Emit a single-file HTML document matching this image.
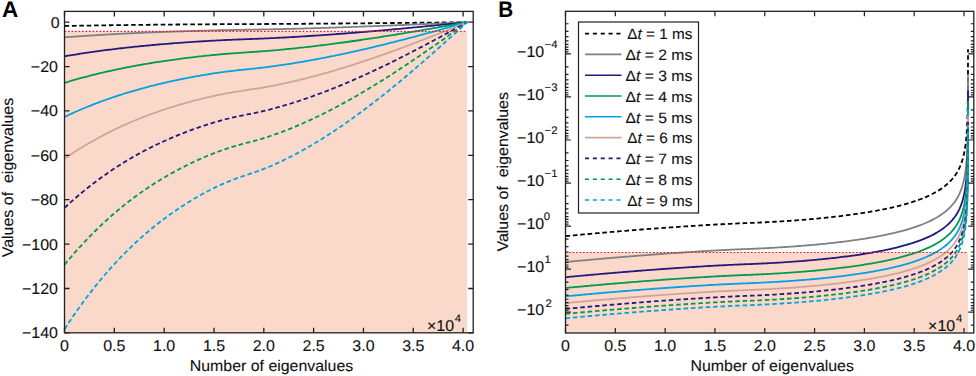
<!DOCTYPE html>
<html><head><meta charset="utf-8"><style>
html,body{margin:0;padding:0;background:#fff;overflow:hidden;width:976px;height:376px;}
svg{display:block;font-family:"Liberation Sans", sans-serif;text-rendering:geometricPrecision;}
</style></head><body>
<svg width="976" height="376" viewBox="0 0 976 376">
<rect x="0" y="0" width="976" height="376" fill="#fff"/>
<rect x="64.5" y="31.4" width="402.60" height="301.40000000000003" fill="#fad9cb"/>
<path d="M64.50,25.99 L66.27,25.96 L68.05,25.92 L69.82,25.89 L71.60,25.86 L73.37,25.83 L75.15,25.79 L76.92,25.76 L78.70,25.73 L80.47,25.70 L82.25,25.67 L84.02,25.64 L85.80,25.61 L87.57,25.58 L89.34,25.55 L91.12,25.53 L92.89,25.50 L94.67,25.47 L96.44,25.44 L98.22,25.42 L99.99,25.39 L101.77,25.36 L103.54,25.34 L105.32,25.31 L107.09,25.29 L108.86,25.26 L110.64,25.24 L112.41,25.21 L114.19,25.19 L115.96,25.16 L117.74,25.14 L119.51,25.12 L121.29,25.10 L123.06,25.07 L124.84,25.05 L126.61,25.03 L128.39,25.01 L130.16,24.99 L131.93,24.96 L133.71,24.94 L135.48,24.92 L137.26,24.90 L139.03,24.88 L140.81,24.86 L142.58,24.84 L144.36,24.82 L146.13,24.81 L147.91,24.79 L149.68,24.77 L151.45,24.75 L153.23,24.73 L155.00,24.71 L156.78,24.70 L158.55,24.68 L160.33,24.66 L162.10,24.65 L163.88,24.63 L165.65,24.61 L167.43,24.60 L169.20,24.58 L170.98,24.57 L172.75,24.55 L174.52,24.54 L176.30,24.52 L178.07,24.51 L179.85,24.49 L181.62,24.48 L183.40,24.46 L185.17,24.45 L186.95,24.43 L188.72,24.42 L190.50,24.41 L192.27,24.39 L194.05,24.38 L195.82,24.37 L197.59,24.36 L199.37,24.34 L201.14,24.33 L202.92,24.32 L204.69,24.31 L206.47,24.29 L208.24,24.28 L210.02,24.27 L211.79,24.26 L213.57,24.25 L215.34,24.24 L217.11,24.23 L218.89,24.22 L220.66,24.21 L222.44,24.20 L224.21,24.19 L225.99,24.18 L227.76,24.17 L229.54,24.16 L231.31,24.15 L233.09,24.14 L234.86,24.14 L236.64,24.13 L238.41,24.12 L240.18,24.11 L241.96,24.11 L243.73,24.10 L245.51,24.09 L247.28,24.08 L249.06,24.08 L250.83,24.07 L252.61,24.06 L254.38,24.05 L256.16,24.05 L257.93,24.04 L259.70,24.03 L261.48,24.02 L263.25,24.01 L265.03,24.01 L266.80,24.00 L268.58,23.99 L270.35,23.98 L272.13,23.97 L273.90,23.96 L275.68,23.95 L277.45,23.94 L279.23,23.93 L281.00,23.92 L282.77,23.91 L284.55,23.90 L286.32,23.89 L288.10,23.88 L289.87,23.87 L291.65,23.85 L293.42,23.84 L295.20,23.83 L296.97,23.82 L298.75,23.81 L300.52,23.80 L302.29,23.78 L304.07,23.77 L305.84,23.76 L307.62,23.75 L309.39,23.73 L311.17,23.72 L312.94,23.71 L314.72,23.70 L316.49,23.68 L318.27,23.67 L320.04,23.66 L321.82,23.64 L323.59,23.63 L325.36,23.61 L327.14,23.60 L328.91,23.59 L330.69,23.57 L332.46,23.56 L334.24,23.54 L336.01,23.53 L337.79,23.51 L339.56,23.50 L341.34,23.48 L343.11,23.47 L344.89,23.45 L346.66,23.44 L348.43,23.42 L350.21,23.41 L351.98,23.39 L353.76,23.38 L355.53,23.36 L357.31,23.34 L359.08,23.33 L360.86,23.31 L362.63,23.30 L364.41,23.28 L366.18,23.26 L367.95,23.25 L369.73,23.23 L371.50,23.21 L373.28,23.20 L375.05,23.18 L376.83,23.16 L378.60,23.14 L380.38,23.13 L382.15,23.11 L383.93,23.09 L385.70,23.07 L387.48,23.06 L389.25,23.04 L391.02,23.02 L392.80,23.00 L394.57,22.99 L396.35,22.97 L398.12,22.95 L399.90,22.93 L401.67,22.91 L403.45,22.90 L405.22,22.88 L407.00,22.86 L408.77,22.84 L410.54,22.82 L412.32,22.80 L414.09,22.78 L415.87,22.77 L417.64,22.75 L419.42,22.73 L421.19,22.71 L422.97,22.69 L424.74,22.67 L426.52,22.65 L428.29,22.63 L430.07,22.61 L431.84,22.59 L433.61,22.57 L435.39,22.55 L437.16,22.54 L438.94,22.52 L440.71,22.50 L442.49,22.48 L444.26,22.46 L446.04,22.44 L447.81,22.42 L449.59,22.40 L451.36,22.38 L453.13,22.36 L453.31,22.36 L453.48,22.36 L453.65,22.35 L453.82,22.35 L453.99,22.35 L454.16,22.35 L454.33,22.35 L454.50,22.34 L454.67,22.34 L454.84,22.34 L455.01,22.34 L455.18,22.34 L455.35,22.33 L455.52,22.33 L455.69,22.33 L455.86,22.33 L456.03,22.33 L456.20,22.33 L456.37,22.32 L456.54,22.32 L456.71,22.32 L456.88,22.32 L457.05,22.32 L457.22,22.31 L457.39,22.31 L457.56,22.31 L457.73,22.31 L457.90,22.31 L458.07,22.30 L458.24,22.30 L458.41,22.30 L458.58,22.30 L458.75,22.30 L458.92,22.29 L459.10,22.29 L459.27,22.29 L459.44,22.29 L459.61,22.29 L459.78,22.28 L459.95,22.28 L460.12,22.28 L460.29,22.28 L460.46,22.28 L460.63,22.27 L460.80,22.27 L460.97,22.27 L461.14,22.27 L461.31,22.27 L461.48,22.26 L461.65,22.26 L461.82,22.26 L461.99,22.26 L462.16,22.26 L462.33,22.25 L462.50,22.25 L462.67,22.25 L462.84,22.25 L463.01,22.25 L463.18,22.25 L463.35,22.24 L463.52,22.24 L463.69,22.24 L463.86,22.24 L464.03,22.24 L464.20,22.23 L464.37,22.23 L464.54,22.23 L464.71,22.23 L464.88,22.23 L465.06,22.22 L465.23,22.22 L465.40,22.22 L465.57,22.22 L465.74,22.22 L465.91,22.21 L466.08,22.21 L466.25,22.21 L466.42,22.21 L466.59,22.21 L466.61,22.21 L466.62,22.21 L466.64,22.21 L466.66,22.21 L466.68,22.20 L466.69,22.20 L466.71,22.20 L466.73,22.20 L466.75,22.20 L466.76,22.20 L466.78,22.20 L466.80,22.20 L466.82,22.20 L466.83,22.20 L466.85,22.20 L466.87,22.20 L466.89,22.20 L466.90,22.20 L466.92,22.20 L466.94,22.20 L466.96,22.20 L466.97,22.20 L466.99,22.20 L467.01,22.20 L467.03,22.20 L467.04,22.20 L467.06,22.20 L467.08,22.20 L467.10,22.20" fill="none" stroke="#000000" stroke-width="1.8" stroke-dasharray="4.6 2.8" stroke-linejoin="round"/>
<path d="M64.50,37.36 L66.27,37.22 L68.05,37.09 L69.82,36.96 L71.60,36.83 L73.37,36.70 L75.15,36.58 L76.92,36.45 L78.70,36.33 L80.47,36.21 L82.25,36.09 L84.02,35.97 L85.80,35.85 L87.57,35.73 L89.34,35.62 L91.12,35.50 L92.89,35.39 L94.67,35.28 L96.44,35.17 L98.22,35.06 L99.99,34.96 L101.77,34.85 L103.54,34.75 L105.32,34.65 L107.09,34.54 L108.86,34.45 L110.64,34.35 L112.41,34.25 L114.19,34.15 L115.96,34.06 L117.74,33.96 L119.51,33.87 L121.29,33.78 L123.06,33.69 L124.84,33.60 L126.61,33.51 L128.39,33.43 L130.16,33.34 L131.93,33.26 L133.71,33.17 L135.48,33.09 L137.26,33.01 L139.03,32.93 L140.81,32.85 L142.58,32.77 L144.36,32.70 L146.13,32.62 L147.91,32.55 L149.68,32.47 L151.45,32.40 L153.23,32.33 L155.00,32.26 L156.78,32.19 L158.55,32.12 L160.33,32.05 L162.10,31.98 L163.88,31.92 L165.65,31.85 L167.43,31.79 L169.20,31.73 L170.98,31.66 L172.75,31.60 L174.52,31.54 L176.30,31.48 L178.07,31.42 L179.85,31.36 L181.62,31.31 L183.40,31.25 L185.17,31.19 L186.95,31.14 L188.72,31.08 L190.50,31.03 L192.27,30.98 L194.05,30.92 L195.82,30.87 L197.59,30.82 L199.37,30.77 L201.14,30.72 L202.92,30.67 L204.69,30.63 L206.47,30.58 L208.24,30.53 L210.02,30.49 L211.79,30.44 L213.57,30.40 L215.34,30.36 L217.11,30.32 L218.89,30.27 L220.66,30.23 L222.44,30.19 L224.21,30.16 L225.99,30.12 L227.76,30.08 L229.54,30.05 L231.31,30.01 L233.09,29.98 L234.86,29.94 L236.64,29.91 L238.41,29.88 L240.18,29.85 L241.96,29.82 L243.73,29.79 L245.51,29.76 L247.28,29.73 L249.06,29.70 L250.83,29.67 L252.61,29.65 L254.38,29.62 L256.16,29.59 L257.93,29.55 L259.70,29.52 L261.48,29.49 L263.25,29.46 L265.03,29.42 L266.80,29.39 L268.58,29.35 L270.35,29.31 L272.13,29.28 L273.90,29.24 L275.68,29.20 L277.45,29.16 L279.23,29.12 L281.00,29.08 L282.77,29.04 L284.55,28.99 L286.32,28.95 L288.10,28.91 L289.87,28.86 L291.65,28.82 L293.42,28.77 L295.20,28.73 L296.97,28.68 L298.75,28.63 L300.52,28.58 L302.29,28.54 L304.07,28.49 L305.84,28.44 L307.62,28.39 L309.39,28.34 L311.17,28.28 L312.94,28.23 L314.72,28.18 L316.49,28.13 L318.27,28.07 L320.04,28.02 L321.82,27.97 L323.59,27.91 L325.36,27.86 L327.14,27.80 L328.91,27.74 L330.69,27.69 L332.46,27.63 L334.24,27.57 L336.01,27.51 L337.79,27.45 L339.56,27.39 L341.34,27.33 L343.11,27.27 L344.89,27.21 L346.66,27.15 L348.43,27.09 L350.21,27.03 L351.98,26.97 L353.76,26.90 L355.53,26.84 L357.31,26.78 L359.08,26.71 L360.86,26.65 L362.63,26.58 L364.41,26.52 L366.18,26.45 L367.95,26.38 L369.73,26.32 L371.50,26.25 L373.28,26.18 L375.05,26.11 L376.83,26.05 L378.60,25.98 L380.38,25.91 L382.15,25.84 L383.93,25.77 L385.70,25.70 L387.48,25.63 L389.25,25.56 L391.02,25.49 L392.80,25.42 L394.57,25.34 L396.35,25.27 L398.12,25.20 L399.90,25.13 L401.67,25.05 L403.45,24.98 L405.22,24.91 L407.00,24.83 L408.77,24.76 L410.54,24.68 L412.32,24.61 L414.09,24.54 L415.87,24.46 L417.64,24.38 L419.42,24.31 L421.19,24.23 L422.97,24.16 L424.74,24.08 L426.52,24.00 L428.29,23.93 L430.07,23.85 L431.84,23.77 L433.61,23.70 L435.39,23.62 L437.16,23.54 L438.94,23.46 L440.71,23.38 L442.49,23.31 L444.26,23.23 L446.04,23.15 L447.81,23.07 L449.59,22.99 L451.36,22.92 L453.13,22.84 L453.31,22.83 L453.48,22.82 L453.65,22.81 L453.82,22.81 L453.99,22.80 L454.16,22.79 L454.33,22.78 L454.50,22.78 L454.67,22.77 L454.84,22.76 L455.01,22.75 L455.18,22.75 L455.35,22.74 L455.52,22.73 L455.69,22.72 L455.86,22.72 L456.03,22.71 L456.20,22.70 L456.37,22.69 L456.54,22.68 L456.71,22.68 L456.88,22.67 L457.05,22.66 L457.22,22.65 L457.39,22.65 L457.56,22.64 L457.73,22.63 L457.90,22.62 L458.07,22.61 L458.24,22.61 L458.41,22.60 L458.58,22.59 L458.75,22.58 L458.92,22.58 L459.10,22.57 L459.27,22.56 L459.44,22.55 L459.61,22.54 L459.78,22.54 L459.95,22.53 L460.12,22.52 L460.29,22.51 L460.46,22.51 L460.63,22.50 L460.80,22.49 L460.97,22.48 L461.14,22.47 L461.31,22.47 L461.48,22.46 L461.65,22.45 L461.82,22.44 L461.99,22.43 L462.16,22.43 L462.33,22.42 L462.50,22.41 L462.67,22.40 L462.84,22.40 L463.01,22.39 L463.18,22.38 L463.35,22.37 L463.52,22.36 L463.69,22.36 L463.86,22.35 L464.03,22.34 L464.20,22.33 L464.37,22.33 L464.54,22.32 L464.71,22.31 L464.88,22.30 L465.06,22.29 L465.23,22.29 L465.40,22.28 L465.57,22.27 L465.74,22.26 L465.91,22.26 L466.08,22.25 L466.25,22.24 L466.42,22.23 L466.59,22.22 L466.61,22.22 L466.62,22.22 L466.64,22.22 L466.66,22.22 L466.68,22.22 L466.69,22.22 L466.71,22.22 L466.73,22.22 L466.75,22.22 L466.76,22.22 L466.78,22.22 L466.80,22.21 L466.82,22.21 L466.83,22.21 L466.85,22.21 L466.87,22.21 L466.89,22.21 L466.90,22.21 L466.92,22.21 L466.94,22.21 L466.96,22.21 L466.97,22.21 L466.99,22.21 L467.01,22.20 L467.03,22.20 L467.04,22.20 L467.06,22.20 L467.08,22.20 L467.10,22.20" fill="none" stroke="#808080" stroke-width="1.8" stroke-linejoin="round"/>
<path d="M64.50,56.31 L66.27,56.00 L68.05,55.71 L69.82,55.41 L71.60,55.12 L73.37,54.83 L75.15,54.55 L76.92,54.27 L78.70,53.99 L80.47,53.71 L82.25,53.44 L84.02,53.17 L85.80,52.91 L87.57,52.65 L89.34,52.39 L91.12,52.13 L92.89,51.88 L94.67,51.63 L96.44,51.39 L98.22,51.14 L99.99,50.91 L101.77,50.67 L103.54,50.43 L105.32,50.20 L107.09,49.98 L108.86,49.75 L110.64,49.53 L112.41,49.31 L114.19,49.09 L115.96,48.88 L117.74,48.67 L119.51,48.46 L121.29,48.26 L123.06,48.05 L124.84,47.85 L126.61,47.66 L128.39,47.46 L130.16,47.27 L131.93,47.08 L133.71,46.89 L135.48,46.71 L137.26,46.52 L139.03,46.34 L140.81,46.17 L142.58,45.99 L144.36,45.82 L146.13,45.65 L147.91,45.48 L149.68,45.32 L151.45,45.15 L153.23,44.99 L155.00,44.83 L156.78,44.67 L158.55,44.52 L160.33,44.37 L162.10,44.22 L163.88,44.07 L165.65,43.92 L167.43,43.78 L169.20,43.63 L170.98,43.49 L172.75,43.35 L174.52,43.22 L176.30,43.08 L178.07,42.95 L179.85,42.82 L181.62,42.69 L183.40,42.56 L185.17,42.43 L186.95,42.31 L188.72,42.19 L190.50,42.06 L192.27,41.95 L194.05,41.83 L195.82,41.71 L197.59,41.60 L199.37,41.48 L201.14,41.37 L202.92,41.27 L204.69,41.16 L206.47,41.05 L208.24,40.95 L210.02,40.85 L211.79,40.75 L213.57,40.65 L215.34,40.55 L217.11,40.46 L218.89,40.37 L220.66,40.28 L222.44,40.19 L224.21,40.10 L225.99,40.02 L227.76,39.93 L229.54,39.85 L231.31,39.78 L233.09,39.70 L234.86,39.62 L236.64,39.55 L238.41,39.48 L240.18,39.41 L241.96,39.35 L243.73,39.28 L245.51,39.21 L247.28,39.15 L249.06,39.08 L250.83,39.02 L252.61,38.95 L254.38,38.89 L256.16,38.82 L257.93,38.75 L259.70,38.68 L261.48,38.60 L263.25,38.53 L265.03,38.45 L266.80,38.37 L268.58,38.29 L270.35,38.21 L272.13,38.12 L273.90,38.03 L275.68,37.95 L277.45,37.86 L279.23,37.77 L281.00,37.67 L282.77,37.58 L284.55,37.48 L286.32,37.39 L288.10,37.29 L289.87,37.19 L291.65,37.09 L293.42,36.99 L295.20,36.88 L296.97,36.78 L298.75,36.67 L300.52,36.56 L302.29,36.45 L304.07,36.34 L305.84,36.23 L307.62,36.12 L309.39,36.01 L311.17,35.89 L312.94,35.77 L314.72,35.66 L316.49,35.54 L318.27,35.42 L320.04,35.30 L321.82,35.17 L323.59,35.05 L325.36,34.93 L327.14,34.80 L328.91,34.67 L330.69,34.54 L332.46,34.42 L334.24,34.28 L336.01,34.15 L337.79,34.02 L339.56,33.89 L341.34,33.75 L343.11,33.62 L344.89,33.48 L346.66,33.34 L348.43,33.20 L350.21,33.06 L351.98,32.92 L353.76,32.78 L355.53,32.64 L357.31,32.49 L359.08,32.35 L360.86,32.20 L362.63,32.06 L364.41,31.91 L366.18,31.76 L367.95,31.61 L369.73,31.46 L371.50,31.31 L373.28,31.16 L375.05,31.01 L376.83,30.85 L378.60,30.70 L380.38,30.54 L382.15,30.39 L383.93,30.23 L385.70,30.07 L387.48,29.91 L389.25,29.76 L391.02,29.60 L392.80,29.44 L394.57,29.27 L396.35,29.11 L398.12,28.95 L399.90,28.79 L401.67,28.62 L403.45,28.46 L405.22,28.29 L407.00,28.13 L408.77,27.96 L410.54,27.79 L412.32,27.62 L414.09,27.45 L415.87,27.29 L417.64,27.12 L419.42,26.95 L421.19,26.78 L422.97,26.60 L424.74,26.43 L426.52,26.26 L428.29,26.09 L430.07,25.91 L431.84,25.74 L433.61,25.57 L435.39,25.39 L437.16,25.22 L438.94,25.04 L440.71,24.87 L442.49,24.69 L444.26,24.51 L446.04,24.34 L447.81,24.16 L449.59,23.98 L451.36,23.81 L453.13,23.63 L453.31,23.62 L453.48,23.60 L453.65,23.58 L453.82,23.57 L453.99,23.55 L454.16,23.53 L454.33,23.51 L454.50,23.50 L454.67,23.48 L454.84,23.46 L455.01,23.45 L455.18,23.43 L455.35,23.41 L455.52,23.39 L455.69,23.38 L455.86,23.36 L456.03,23.34 L456.20,23.33 L456.37,23.31 L456.54,23.29 L456.71,23.27 L456.88,23.26 L457.05,23.24 L457.22,23.22 L457.39,23.20 L457.56,23.19 L457.73,23.17 L457.90,23.15 L458.07,23.13 L458.24,23.12 L458.41,23.10 L458.58,23.08 L458.75,23.06 L458.92,23.04 L459.10,23.03 L459.27,23.01 L459.44,22.99 L459.61,22.97 L459.78,22.96 L459.95,22.94 L460.12,22.92 L460.29,22.90 L460.46,22.89 L460.63,22.87 L460.80,22.85 L460.97,22.83 L461.14,22.82 L461.31,22.80 L461.48,22.78 L461.65,22.76 L461.82,22.75 L461.99,22.73 L462.16,22.71 L462.33,22.69 L462.50,22.68 L462.67,22.66 L462.84,22.64 L463.01,22.62 L463.18,22.61 L463.35,22.59 L463.52,22.57 L463.69,22.55 L463.86,22.54 L464.03,22.52 L464.20,22.50 L464.37,22.48 L464.54,22.46 L464.71,22.45 L464.88,22.43 L465.06,22.41 L465.23,22.39 L465.40,22.38 L465.57,22.36 L465.74,22.34 L465.91,22.32 L466.08,22.31 L466.25,22.29 L466.42,22.27 L466.59,22.25 L466.61,22.25 L466.62,22.25 L466.64,22.25 L466.66,22.25 L466.68,22.24 L466.69,22.24 L466.71,22.24 L466.73,22.24 L466.75,22.24 L466.76,22.24 L466.78,22.23 L466.80,22.23 L466.82,22.23 L466.83,22.23 L466.85,22.23 L466.87,22.23 L466.89,22.22 L466.90,22.22 L466.92,22.22 L466.94,22.22 L466.96,22.22 L466.97,22.21 L466.99,22.21 L467.01,22.21 L467.03,22.21 L467.04,22.21 L467.06,22.21 L467.08,22.20 L467.10,22.20" fill="none" stroke="#25197e" stroke-width="1.8" stroke-linejoin="round"/>
<path d="M64.50,82.83 L66.27,82.30 L68.05,81.77 L69.82,81.24 L71.60,80.72 L73.37,80.21 L75.15,79.70 L76.92,79.20 L78.70,78.71 L80.47,78.22 L82.25,77.74 L84.02,77.26 L85.80,76.79 L87.57,76.33 L89.34,75.87 L91.12,75.42 L92.89,74.97 L94.67,74.53 L96.44,74.09 L98.22,73.66 L99.99,73.23 L101.77,72.81 L103.54,72.40 L105.32,71.98 L107.09,71.58 L108.86,71.18 L110.64,70.79 L112.41,70.40 L114.19,70.01 L115.96,69.63 L117.74,69.26 L119.51,68.89 L121.29,68.52 L123.06,68.16 L124.84,67.81 L126.61,67.45 L128.39,67.11 L130.16,66.77 L131.93,66.43 L133.71,66.10 L135.48,65.77 L137.26,65.44 L139.03,65.12 L140.81,64.81 L142.58,64.50 L144.36,64.19 L146.13,63.89 L147.91,63.59 L149.68,63.29 L151.45,63.00 L153.23,62.72 L155.00,62.43 L156.78,62.15 L158.55,61.88 L160.33,61.61 L162.10,61.34 L163.88,61.08 L165.65,60.81 L167.43,60.56 L169.20,60.30 L170.98,60.05 L172.75,59.81 L174.52,59.56 L176.30,59.32 L178.07,59.09 L179.85,58.85 L181.62,58.62 L183.40,58.39 L185.17,58.17 L186.95,57.95 L188.72,57.73 L190.50,57.52 L192.27,57.30 L194.05,57.09 L195.82,56.89 L197.59,56.68 L199.37,56.48 L201.14,56.29 L202.92,56.09 L204.69,55.90 L206.47,55.72 L208.24,55.53 L210.02,55.35 L211.79,55.17 L213.57,55.00 L215.34,54.83 L217.11,54.66 L218.89,54.50 L220.66,54.34 L222.44,54.18 L224.21,54.02 L225.99,53.87 L227.76,53.73 L229.54,53.58 L231.31,53.44 L233.09,53.31 L234.86,53.18 L236.64,53.05 L238.41,52.92 L240.18,52.80 L241.96,52.68 L243.73,52.56 L245.51,52.45 L247.28,52.33 L249.06,52.21 L250.83,52.10 L252.61,51.98 L254.38,51.86 L256.16,51.74 L257.93,51.62 L259.70,51.49 L261.48,51.36 L263.25,51.22 L265.03,51.09 L266.80,50.95 L268.58,50.80 L270.35,50.65 L272.13,50.50 L273.90,50.35 L275.68,50.19 L277.45,50.04 L279.23,49.87 L281.00,49.71 L282.77,49.54 L284.55,49.37 L286.32,49.20 L288.10,49.02 L289.87,48.85 L291.65,48.67 L293.42,48.49 L295.20,48.30 L296.97,48.12 L298.75,47.93 L300.52,47.73 L302.29,47.54 L304.07,47.35 L305.84,47.15 L307.62,46.95 L309.39,46.74 L311.17,46.54 L312.94,46.33 L314.72,46.12 L316.49,45.91 L318.27,45.70 L320.04,45.48 L321.82,45.26 L323.59,45.05 L325.36,44.82 L327.14,44.60 L328.91,44.37 L330.69,44.15 L332.46,43.92 L334.24,43.68 L336.01,43.45 L337.79,43.21 L339.56,42.98 L341.34,42.74 L343.11,42.50 L344.89,42.25 L346.66,42.01 L348.43,41.76 L350.21,41.51 L351.98,41.26 L353.76,41.01 L355.53,40.76 L357.31,40.50 L359.08,40.24 L360.86,39.99 L362.63,39.72 L364.41,39.46 L366.18,39.20 L367.95,38.93 L369.73,38.67 L371.50,38.40 L373.28,38.13 L375.05,37.86 L376.83,37.58 L378.60,37.31 L380.38,37.03 L382.15,36.76 L383.93,36.48 L385.70,36.20 L387.48,35.92 L389.25,35.63 L391.02,35.35 L392.80,35.06 L394.57,34.78 L396.35,34.49 L398.12,34.20 L399.90,33.91 L401.67,33.62 L403.45,33.32 L405.22,33.03 L407.00,32.73 L408.77,32.44 L410.54,32.14 L412.32,31.84 L414.09,31.54 L415.87,31.24 L417.64,30.94 L419.42,30.64 L421.19,30.33 L422.97,30.03 L424.74,29.72 L426.52,29.42 L428.29,29.11 L430.07,28.80 L431.84,28.49 L433.61,28.18 L435.39,27.87 L437.16,27.56 L438.94,27.25 L440.71,26.94 L442.49,26.63 L444.26,26.31 L446.04,26.00 L447.81,25.68 L449.59,25.37 L451.36,25.06 L453.13,24.75 L453.31,24.72 L453.48,24.69 L453.65,24.66 L453.82,24.63 L453.99,24.60 L454.16,24.57 L454.33,24.54 L454.50,24.51 L454.67,24.48 L454.84,24.45 L455.01,24.42 L455.18,24.39 L455.35,24.35 L455.52,24.32 L455.69,24.29 L455.86,24.26 L456.03,24.23 L456.20,24.20 L456.37,24.17 L456.54,24.14 L456.71,24.11 L456.88,24.08 L457.05,24.05 L457.22,24.01 L457.39,23.98 L457.56,23.95 L457.73,23.92 L457.90,23.89 L458.07,23.86 L458.24,23.83 L458.41,23.80 L458.58,23.76 L458.75,23.73 L458.92,23.70 L459.10,23.67 L459.27,23.64 L459.44,23.61 L459.61,23.58 L459.78,23.55 L459.95,23.51 L460.12,23.48 L460.29,23.45 L460.46,23.42 L460.63,23.39 L460.80,23.36 L460.97,23.33 L461.14,23.30 L461.31,23.26 L461.48,23.23 L461.65,23.20 L461.82,23.17 L461.99,23.14 L462.16,23.11 L462.33,23.08 L462.50,23.05 L462.67,23.01 L462.84,22.98 L463.01,22.95 L463.18,22.92 L463.35,22.89 L463.52,22.86 L463.69,22.83 L463.86,22.80 L464.03,22.76 L464.20,22.73 L464.37,22.70 L464.54,22.67 L464.71,22.64 L464.88,22.61 L465.06,22.58 L465.23,22.55 L465.40,22.51 L465.57,22.48 L465.74,22.45 L465.91,22.42 L466.08,22.39 L466.25,22.36 L466.42,22.33 L466.59,22.30 L466.61,22.29 L466.62,22.29 L466.64,22.29 L466.66,22.28 L466.68,22.28 L466.69,22.28 L466.71,22.27 L466.73,22.27 L466.75,22.27 L466.76,22.26 L466.78,22.26 L466.80,22.26 L466.82,22.25 L466.83,22.25 L466.85,22.25 L466.87,22.24 L466.89,22.24 L466.90,22.24 L466.92,22.23 L466.94,22.23 L466.96,22.23 L466.97,22.23 L466.99,22.22 L467.01,22.22 L467.03,22.22 L467.04,22.21 L467.06,22.21 L467.08,22.21 L467.10,22.20" fill="none" stroke="#009a4e" stroke-width="1.8" stroke-linejoin="round"/>
<path d="M64.50,116.94 L66.27,116.10 L68.05,115.27 L69.82,114.45 L71.60,113.64 L73.37,112.84 L75.15,112.05 L76.92,111.27 L78.70,110.50 L80.47,109.74 L82.25,108.98 L84.02,108.24 L85.80,107.50 L87.57,106.78 L89.34,106.06 L91.12,105.35 L92.89,104.65 L94.67,103.96 L96.44,103.28 L98.22,102.60 L99.99,101.94 L101.77,101.28 L103.54,100.63 L105.32,99.99 L107.09,99.36 L108.86,98.73 L110.64,98.11 L112.41,97.51 L114.19,96.90 L115.96,96.31 L117.74,95.73 L119.51,95.15 L121.29,94.58 L123.06,94.01 L124.84,93.46 L126.61,92.91 L128.39,92.37 L130.16,91.84 L131.93,91.31 L133.71,90.79 L135.48,90.27 L137.26,89.77 L139.03,89.27 L140.81,88.78 L142.58,88.29 L144.36,87.81 L146.13,87.34 L147.91,86.87 L149.68,86.41 L151.45,85.96 L153.23,85.51 L155.00,85.07 L156.78,84.63 L158.55,84.20 L160.33,83.77 L162.10,83.36 L163.88,82.94 L165.65,82.54 L167.43,82.13 L169.20,81.74 L170.98,81.35 L172.75,80.96 L174.52,80.58 L176.30,80.21 L178.07,79.84 L179.85,79.47 L181.62,79.11 L183.40,78.75 L185.17,78.40 L186.95,78.06 L188.72,77.72 L190.50,77.38 L192.27,77.05 L194.05,76.72 L195.82,76.40 L197.59,76.08 L199.37,75.77 L201.14,75.46 L202.92,75.16 L204.69,74.86 L206.47,74.57 L208.24,74.28 L210.02,74.00 L211.79,73.72 L213.57,73.45 L215.34,73.18 L217.11,72.92 L218.89,72.66 L220.66,72.41 L222.44,72.17 L224.21,71.93 L225.99,71.69 L227.76,71.46 L229.54,71.24 L231.31,71.02 L233.09,70.81 L234.86,70.60 L236.64,70.40 L238.41,70.20 L240.18,70.01 L241.96,69.83 L243.73,69.64 L245.51,69.46 L247.28,69.28 L249.06,69.10 L250.83,68.92 L252.61,68.73 L254.38,68.55 L256.16,68.36 L257.93,68.16 L259.70,67.97 L261.48,67.76 L263.25,67.55 L265.03,67.34 L266.80,67.12 L268.58,66.89 L270.35,66.66 L272.13,66.42 L273.90,66.18 L275.68,65.94 L277.45,65.69 L279.23,65.44 L281.00,65.18 L282.77,64.92 L284.55,64.66 L286.32,64.39 L288.10,64.11 L289.87,63.84 L291.65,63.56 L293.42,63.27 L295.20,62.98 L296.97,62.69 L298.75,62.40 L300.52,62.10 L302.29,61.80 L304.07,61.49 L305.84,61.18 L307.62,60.87 L309.39,60.55 L311.17,60.23 L312.94,59.91 L314.72,59.58 L316.49,59.25 L318.27,58.92 L320.04,58.58 L321.82,58.24 L323.59,57.90 L325.36,57.55 L327.14,57.20 L328.91,56.85 L330.69,56.49 L332.46,56.13 L334.24,55.77 L336.01,55.40 L337.79,55.04 L339.56,54.66 L341.34,54.29 L343.11,53.91 L344.89,53.53 L346.66,53.15 L348.43,52.76 L350.21,52.38 L351.98,51.99 L353.76,51.59 L355.53,51.20 L357.31,50.80 L359.08,50.39 L360.86,49.99 L362.63,49.58 L364.41,49.17 L366.18,48.76 L367.95,48.35 L369.73,47.93 L371.50,47.51 L373.28,47.09 L375.05,46.66 L376.83,46.24 L378.60,45.81 L380.38,45.38 L382.15,44.94 L383.93,44.51 L385.70,44.07 L387.48,43.63 L389.25,43.19 L391.02,42.74 L392.80,42.30 L394.57,41.85 L396.35,41.40 L398.12,40.95 L399.90,40.49 L401.67,40.04 L403.45,39.58 L405.22,39.12 L407.00,38.66 L408.77,38.20 L410.54,37.73 L412.32,37.26 L414.09,36.80 L415.87,36.33 L417.64,35.86 L419.42,35.38 L421.19,34.91 L422.97,34.43 L424.74,33.96 L426.52,33.48 L428.29,33.00 L430.07,32.52 L431.84,32.03 L433.61,31.55 L435.39,31.07 L437.16,30.58 L438.94,30.09 L440.71,29.60 L442.49,29.12 L444.26,28.62 L446.04,28.13 L447.81,27.64 L449.59,27.15 L451.36,26.67 L453.13,26.18 L453.31,26.14 L453.48,26.09 L453.65,26.04 L453.82,25.99 L453.99,25.95 L454.16,25.90 L454.33,25.85 L454.50,25.81 L454.67,25.76 L454.84,25.71 L455.01,25.66 L455.18,25.61 L455.35,25.57 L455.52,25.52 L455.69,25.47 L455.86,25.42 L456.03,25.37 L456.20,25.33 L456.37,25.28 L456.54,25.23 L456.71,25.18 L456.88,25.13 L457.05,25.08 L457.22,25.03 L457.39,24.99 L457.56,24.94 L457.73,24.89 L457.90,24.84 L458.07,24.79 L458.24,24.74 L458.41,24.69 L458.58,24.64 L458.75,24.60 L458.92,24.55 L459.10,24.50 L459.27,24.45 L459.44,24.40 L459.61,24.35 L459.78,24.30 L459.95,24.25 L460.12,24.21 L460.29,24.16 L460.46,24.11 L460.63,24.06 L460.80,24.01 L460.97,23.96 L461.14,23.91 L461.31,23.86 L461.48,23.81 L461.65,23.77 L461.82,23.72 L461.99,23.67 L462.16,23.62 L462.33,23.57 L462.50,23.52 L462.67,23.47 L462.84,23.42 L463.01,23.38 L463.18,23.33 L463.35,23.28 L463.52,23.23 L463.69,23.18 L463.86,23.13 L464.03,23.08 L464.20,23.03 L464.37,22.98 L464.54,22.94 L464.71,22.89 L464.88,22.84 L465.06,22.79 L465.23,22.74 L465.40,22.69 L465.57,22.64 L465.74,22.59 L465.91,22.55 L466.08,22.50 L466.25,22.45 L466.42,22.40 L466.59,22.35 L466.61,22.35 L466.62,22.34 L466.64,22.33 L466.66,22.33 L466.68,22.32 L466.69,22.32 L466.71,22.31 L466.73,22.31 L466.75,22.30 L466.76,22.30 L466.78,22.29 L466.80,22.29 L466.82,22.28 L466.83,22.28 L466.85,22.27 L466.87,22.27 L466.89,22.26 L466.90,22.26 L466.92,22.25 L466.94,22.25 L466.96,22.24 L466.97,22.24 L466.99,22.23 L467.01,22.23 L467.03,22.22 L467.04,22.22 L467.06,22.21 L467.08,22.21 L467.10,22.20" fill="none" stroke="#00a3e0" stroke-width="1.8" stroke-linejoin="round"/>
<path d="M64.50,158.62 L66.27,157.42 L68.05,156.22 L69.82,155.04 L71.60,153.88 L73.37,152.72 L75.15,151.59 L76.92,150.46 L78.70,149.35 L80.47,148.25 L82.25,147.17 L84.02,146.09 L85.80,145.04 L87.57,143.99 L89.34,142.96 L91.12,141.94 L92.89,140.93 L94.67,139.93 L96.44,138.95 L98.22,137.98 L99.99,137.02 L101.77,136.07 L103.54,135.14 L105.32,134.22 L107.09,133.30 L108.86,132.41 L110.64,131.52 L112.41,130.64 L114.19,129.78 L115.96,128.92 L117.74,128.08 L119.51,127.25 L121.29,126.42 L123.06,125.61 L124.84,124.81 L126.61,124.02 L128.39,123.24 L130.16,122.47 L131.93,121.72 L133.71,120.97 L135.48,120.23 L137.26,119.50 L139.03,118.78 L140.81,118.07 L142.58,117.37 L144.36,116.68 L146.13,116.00 L147.91,115.33 L149.68,114.66 L151.45,114.01 L153.23,113.36 L155.00,112.73 L156.78,112.10 L158.55,111.48 L160.33,110.87 L162.10,110.26 L163.88,109.67 L165.65,109.08 L167.43,108.50 L169.20,107.93 L170.98,107.37 L172.75,106.82 L174.52,106.27 L176.30,105.73 L178.07,105.19 L179.85,104.67 L181.62,104.15 L183.40,103.64 L185.17,103.13 L186.95,102.64 L188.72,102.14 L190.50,101.66 L192.27,101.18 L194.05,100.71 L195.82,100.25 L197.59,99.79 L199.37,99.34 L201.14,98.90 L202.92,98.46 L204.69,98.03 L206.47,97.61 L208.24,97.20 L210.02,96.79 L211.79,96.39 L213.57,96.00 L215.34,95.61 L217.11,95.24 L218.89,94.87 L220.66,94.51 L222.44,94.15 L224.21,93.81 L225.99,93.47 L227.76,93.14 L229.54,92.81 L231.31,92.50 L233.09,92.19 L234.86,91.90 L236.64,91.61 L238.41,91.32 L240.18,91.05 L241.96,90.78 L243.73,90.52 L245.51,90.25 L247.28,89.99 L249.06,89.73 L250.83,89.47 L252.61,89.21 L254.38,88.94 L256.16,88.67 L257.93,88.39 L259.70,88.10 L261.48,87.81 L263.25,87.50 L265.03,87.19 L266.80,86.88 L268.58,86.55 L270.35,86.22 L272.13,85.88 L273.90,85.54 L275.68,85.19 L277.45,84.83 L279.23,84.46 L281.00,84.09 L282.77,83.72 L284.55,83.34 L286.32,82.95 L288.10,82.56 L289.87,82.16 L291.65,81.75 L293.42,81.34 L295.20,80.93 L296.97,80.51 L298.75,80.08 L300.52,79.65 L302.29,79.22 L304.07,78.78 L305.84,78.33 L307.62,77.88 L309.39,77.42 L311.17,76.96 L312.94,76.50 L314.72,76.03 L316.49,75.55 L318.27,75.07 L320.04,74.59 L321.82,74.10 L323.59,73.60 L325.36,73.10 L327.14,72.60 L328.91,72.09 L330.69,71.58 L332.46,71.06 L334.24,70.54 L336.01,70.01 L337.79,69.48 L339.56,68.95 L341.34,68.41 L343.11,67.87 L344.89,67.32 L346.66,66.77 L348.43,66.21 L350.21,65.65 L351.98,65.09 L353.76,64.52 L355.53,63.95 L357.31,63.38 L359.08,62.80 L360.86,62.22 L362.63,61.63 L364.41,61.04 L366.18,60.45 L367.95,59.85 L369.73,59.25 L371.50,58.65 L373.28,58.04 L375.05,57.43 L376.83,56.81 L378.60,56.20 L380.38,55.58 L382.15,54.95 L383.93,54.32 L385.70,53.69 L387.48,53.06 L389.25,52.42 L391.02,51.78 L392.80,51.14 L394.57,50.50 L396.35,49.85 L398.12,49.20 L399.90,48.54 L401.67,47.89 L403.45,47.23 L405.22,46.56 L407.00,45.90 L408.77,45.23 L410.54,44.56 L412.32,43.89 L414.09,43.22 L415.87,42.54 L417.64,41.86 L419.42,41.18 L421.19,40.50 L422.97,39.82 L424.74,39.13 L426.52,38.44 L428.29,37.75 L430.07,37.06 L431.84,36.36 L433.61,35.66 L435.39,34.97 L437.16,34.27 L438.94,33.57 L440.71,32.86 L442.49,32.16 L444.26,31.45 L446.04,30.74 L447.81,30.04 L449.59,29.33 L451.36,28.64 L453.13,27.94 L453.31,27.87 L453.48,27.80 L453.65,27.73 L453.82,27.66 L453.99,27.60 L454.16,27.53 L454.33,27.46 L454.50,27.39 L454.67,27.32 L454.84,27.25 L455.01,27.19 L455.18,27.12 L455.35,27.05 L455.52,26.98 L455.69,26.91 L455.86,26.84 L456.03,26.77 L456.20,26.70 L456.37,26.63 L456.54,26.56 L456.71,26.49 L456.88,26.42 L457.05,26.35 L457.22,26.28 L457.39,26.21 L457.56,26.14 L457.73,26.07 L457.90,26.00 L458.07,25.93 L458.24,25.86 L458.41,25.79 L458.58,25.72 L458.75,25.65 L458.92,25.58 L459.10,25.51 L459.27,25.44 L459.44,25.37 L459.61,25.30 L459.78,25.23 L459.95,25.16 L460.12,25.09 L460.29,25.02 L460.46,24.95 L460.63,24.88 L460.80,24.81 L460.97,24.74 L461.14,24.67 L461.31,24.60 L461.48,24.53 L461.65,24.45 L461.82,24.38 L461.99,24.31 L462.16,24.24 L462.33,24.17 L462.50,24.10 L462.67,24.03 L462.84,23.96 L463.01,23.89 L463.18,23.82 L463.35,23.75 L463.52,23.68 L463.69,23.61 L463.86,23.54 L464.03,23.47 L464.20,23.40 L464.37,23.33 L464.54,23.26 L464.71,23.19 L464.88,23.12 L465.06,23.05 L465.23,22.98 L465.40,22.91 L465.57,22.84 L465.74,22.77 L465.91,22.70 L466.08,22.63 L466.25,22.56 L466.42,22.49 L466.59,22.42 L466.61,22.41 L466.62,22.40 L466.64,22.39 L466.66,22.39 L466.68,22.38 L466.69,22.37 L466.71,22.37 L466.73,22.36 L466.75,22.35 L466.76,22.34 L466.78,22.34 L466.80,22.33 L466.82,22.32 L466.83,22.31 L466.85,22.31 L466.87,22.30 L466.89,22.29 L466.90,22.29 L466.92,22.28 L466.94,22.27 L466.96,22.26 L466.97,22.26 L466.99,22.25 L467.01,22.24 L467.03,22.24 L467.04,22.23 L467.06,22.22 L467.08,22.21 L467.10,22.21" fill="none" stroke="#d2a397" stroke-width="1.8" stroke-linejoin="round"/>
<path d="M64.50,207.89 L66.27,206.24 L68.05,204.62 L69.82,203.01 L71.60,201.43 L73.37,199.86 L75.15,198.31 L76.92,196.78 L78.70,195.26 L80.47,193.77 L82.25,192.29 L84.02,190.83 L85.80,189.39 L87.57,187.97 L89.34,186.56 L91.12,185.17 L92.89,183.80 L94.67,182.45 L96.44,181.11 L98.22,179.79 L99.99,178.48 L101.77,177.19 L103.54,175.92 L105.32,174.67 L107.09,173.43 L108.86,172.20 L110.64,170.99 L112.41,169.80 L114.19,168.62 L115.96,167.46 L117.74,166.31 L119.51,165.18 L121.29,164.06 L123.06,162.96 L124.84,161.87 L126.61,160.79 L128.39,159.73 L130.16,158.68 L131.93,157.65 L133.71,156.63 L135.48,155.63 L137.26,154.63 L139.03,153.66 L140.81,152.69 L142.58,151.74 L144.36,150.80 L146.13,149.87 L147.91,148.95 L149.68,148.05 L151.45,147.16 L153.23,146.28 L155.00,145.42 L156.78,144.56 L158.55,143.72 L160.33,142.89 L162.10,142.07 L163.88,141.26 L165.65,140.46 L167.43,139.67 L169.20,138.89 L170.98,138.13 L172.75,137.37 L174.52,136.63 L176.30,135.89 L178.07,135.16 L179.85,134.45 L181.62,133.74 L183.40,133.05 L185.17,132.36 L186.95,131.68 L188.72,131.01 L190.50,130.35 L192.27,129.70 L194.05,129.06 L195.82,128.43 L197.59,127.81 L199.37,127.20 L201.14,126.59 L202.92,126.00 L204.69,125.42 L206.47,124.84 L208.24,124.28 L210.02,123.72 L211.79,123.18 L213.57,122.65 L215.34,122.12 L217.11,121.61 L218.89,121.11 L220.66,120.62 L222.44,120.13 L224.21,119.66 L225.99,119.20 L227.76,118.75 L229.54,118.31 L231.31,117.89 L233.09,117.47 L234.86,117.06 L236.64,116.67 L238.41,116.29 L240.18,115.91 L241.96,115.55 L243.73,115.19 L245.51,114.83 L247.28,114.47 L249.06,114.12 L250.83,113.77 L252.61,113.41 L254.38,113.04 L256.16,112.67 L257.93,112.29 L259.70,111.90 L261.48,111.50 L263.25,111.09 L265.03,110.67 L266.80,110.23 L268.58,109.79 L270.35,109.34 L272.13,108.88 L273.90,108.41 L275.68,107.93 L277.45,107.44 L279.23,106.95 L281.00,106.45 L282.77,105.93 L284.55,105.41 L286.32,104.89 L288.10,104.35 L289.87,103.81 L291.65,103.26 L293.42,102.70 L295.20,102.14 L296.97,101.57 L298.75,100.99 L300.52,100.40 L302.29,99.81 L304.07,99.21 L305.84,98.60 L307.62,97.99 L309.39,97.37 L311.17,96.74 L312.94,96.10 L314.72,95.46 L316.49,94.82 L318.27,94.16 L320.04,93.50 L321.82,92.84 L323.59,92.16 L325.36,91.48 L327.14,90.80 L328.91,90.11 L330.69,89.41 L332.46,88.70 L334.24,87.99 L336.01,87.28 L337.79,86.56 L339.56,85.83 L341.34,85.10 L343.11,84.36 L344.89,83.61 L346.66,82.86 L348.43,82.11 L350.21,81.35 L351.98,80.58 L353.76,79.81 L355.53,79.03 L357.31,78.25 L359.08,77.46 L360.86,76.67 L362.63,75.87 L364.41,75.07 L366.18,74.26 L367.95,73.45 L369.73,72.63 L371.50,71.81 L373.28,70.98 L375.05,70.15 L376.83,69.31 L378.60,68.47 L380.38,67.63 L382.15,66.78 L383.93,65.92 L385.70,65.07 L387.48,64.20 L389.25,63.34 L391.02,62.47 L392.80,61.59 L394.57,60.71 L396.35,59.83 L398.12,58.94 L399.90,58.05 L401.67,57.16 L403.45,56.26 L405.22,55.36 L407.00,54.46 L408.77,53.55 L410.54,52.64 L412.32,51.73 L414.09,50.81 L415.87,49.89 L417.64,48.96 L419.42,48.04 L421.19,47.11 L422.97,46.18 L424.74,45.24 L426.52,44.30 L428.29,43.36 L430.07,42.42 L431.84,41.47 L433.61,40.53 L435.39,39.58 L437.16,38.62 L438.94,37.67 L440.71,36.71 L442.49,35.75 L444.26,34.79 L446.04,33.83 L447.81,32.87 L449.59,31.91 L451.36,30.96 L453.13,30.01 L453.31,29.92 L453.48,29.82 L453.65,29.73 L453.82,29.64 L453.99,29.55 L454.16,29.45 L454.33,29.36 L454.50,29.27 L454.67,29.17 L454.84,29.08 L455.01,28.99 L455.18,28.89 L455.35,28.80 L455.52,28.70 L455.69,28.61 L455.86,28.52 L456.03,28.42 L456.20,28.33 L456.37,28.23 L456.54,28.14 L456.71,28.04 L456.88,27.95 L457.05,27.85 L457.22,27.76 L457.39,27.66 L457.56,27.57 L457.73,27.47 L457.90,27.37 L458.07,27.28 L458.24,27.18 L458.41,27.09 L458.58,26.99 L458.75,26.90 L458.92,26.80 L459.10,26.70 L459.27,26.61 L459.44,26.51 L459.61,26.42 L459.78,26.32 L459.95,26.23 L460.12,26.13 L460.29,26.03 L460.46,25.94 L460.63,25.84 L460.80,25.75 L460.97,25.65 L461.14,25.56 L461.31,25.46 L461.48,25.36 L461.65,25.27 L461.82,25.17 L461.99,25.08 L462.16,24.98 L462.33,24.89 L462.50,24.79 L462.67,24.69 L462.84,24.60 L463.01,24.50 L463.18,24.41 L463.35,24.31 L463.52,24.22 L463.69,24.12 L463.86,24.03 L464.03,23.93 L464.20,23.83 L464.37,23.74 L464.54,23.64 L464.71,23.55 L464.88,23.45 L465.06,23.36 L465.23,23.26 L465.40,23.16 L465.57,23.07 L465.74,22.97 L465.91,22.88 L466.08,22.78 L466.25,22.69 L466.42,22.59 L466.59,22.49 L466.61,22.48 L466.62,22.47 L466.64,22.46 L466.66,22.45 L466.68,22.44 L466.69,22.43 L466.71,22.43 L466.73,22.42 L466.75,22.41 L466.76,22.40 L466.78,22.39 L466.80,22.38 L466.82,22.37 L466.83,22.36 L466.85,22.35 L466.87,22.34 L466.89,22.33 L466.90,22.32 L466.92,22.31 L466.94,22.30 L466.96,22.29 L466.97,22.28 L466.99,22.27 L467.01,22.26 L467.03,22.25 L467.04,22.24 L467.06,22.23 L467.08,22.22 L467.10,22.21" fill="none" stroke="#25197e" stroke-width="1.8" stroke-dasharray="4.6 2.8" stroke-linejoin="round"/>
<path d="M64.50,264.73 L66.27,262.58 L68.05,260.46 L69.82,258.36 L71.60,256.29 L73.37,254.24 L75.15,252.22 L76.92,250.22 L78.70,248.24 L80.47,246.29 L82.25,244.36 L84.02,242.46 L85.80,240.57 L87.57,238.71 L89.34,236.88 L91.12,235.06 L92.89,233.27 L94.67,231.50 L96.44,229.76 L98.22,228.03 L99.99,226.32 L101.77,224.64 L103.54,222.98 L105.32,221.34 L107.09,219.72 L108.86,218.12 L110.64,216.54 L112.41,214.98 L114.19,213.44 L115.96,211.93 L117.74,210.43 L119.51,208.95 L121.29,207.49 L123.06,206.04 L124.84,204.62 L126.61,203.22 L128.39,201.83 L130.16,200.47 L131.93,199.12 L133.71,197.79 L135.48,196.47 L137.26,195.18 L139.03,193.90 L140.81,192.64 L142.58,191.39 L144.36,190.16 L146.13,188.95 L147.91,187.76 L149.68,186.58 L151.45,185.41 L153.23,184.27 L155.00,183.13 L156.78,182.02 L158.55,180.92 L160.33,179.83 L162.10,178.76 L163.88,177.70 L165.65,176.66 L167.43,175.63 L169.20,174.62 L170.98,173.61 L172.75,172.63 L174.52,171.65 L176.30,170.69 L178.07,169.75 L179.85,168.81 L181.62,167.89 L183.40,166.98 L185.17,166.08 L186.95,165.20 L188.72,164.32 L190.50,163.46 L192.27,162.61 L194.05,161.77 L195.82,160.95 L197.59,160.14 L199.37,159.34 L201.14,158.55 L202.92,157.77 L204.69,157.01 L206.47,156.26 L208.24,155.53 L210.02,154.80 L211.79,154.09 L213.57,153.40 L215.34,152.71 L217.11,152.04 L218.89,151.39 L220.66,150.74 L222.44,150.11 L224.21,149.50 L225.99,148.90 L227.76,148.31 L229.54,147.74 L231.31,147.18 L233.09,146.63 L234.86,146.10 L236.64,145.59 L238.41,145.09 L240.18,144.60 L241.96,144.12 L243.73,143.65 L245.51,143.18 L247.28,142.72 L249.06,142.26 L250.83,141.80 L252.61,141.33 L254.38,140.85 L256.16,140.37 L257.93,139.87 L259.70,139.36 L261.48,138.84 L263.25,138.30 L265.03,137.75 L266.80,137.18 L268.58,136.61 L270.35,136.02 L272.13,135.41 L273.90,134.80 L275.68,134.18 L277.45,133.54 L279.23,132.89 L281.00,132.23 L282.77,131.57 L284.55,130.89 L286.32,130.20 L288.10,129.50 L289.87,128.79 L291.65,128.07 L293.42,127.34 L295.20,126.61 L296.97,125.86 L298.75,125.10 L300.52,124.34 L302.29,123.56 L304.07,122.78 L305.84,121.99 L307.62,121.19 L309.39,120.38 L311.17,119.56 L312.94,118.73 L314.72,117.89 L316.49,117.05 L318.27,116.19 L320.04,115.33 L321.82,114.46 L323.59,113.58 L325.36,112.69 L327.14,111.80 L328.91,110.89 L330.69,109.98 L332.46,109.06 L334.24,108.14 L336.01,107.20 L337.79,106.26 L339.56,105.31 L341.34,104.35 L343.11,103.39 L344.89,102.41 L346.66,101.43 L348.43,100.45 L350.21,99.45 L351.98,98.45 L353.76,97.44 L355.53,96.43 L357.31,95.41 L359.08,94.38 L360.86,93.34 L362.63,92.30 L364.41,91.25 L366.18,90.20 L367.95,89.13 L369.73,88.07 L371.50,86.99 L373.28,85.91 L375.05,84.83 L376.83,83.74 L378.60,82.64 L380.38,81.53 L382.15,80.42 L383.93,79.31 L385.70,78.19 L387.48,77.06 L389.25,75.93 L391.02,74.79 L392.80,73.65 L394.57,72.50 L396.35,71.35 L398.12,70.19 L399.90,69.03 L401.67,67.86 L403.45,66.69 L405.22,65.51 L407.00,64.33 L408.77,63.15 L410.54,61.96 L412.32,60.76 L414.09,59.57 L415.87,58.36 L417.64,57.16 L419.42,55.95 L421.19,54.73 L422.97,53.52 L424.74,52.29 L426.52,51.07 L428.29,49.84 L430.07,48.61 L431.84,47.38 L433.61,46.14 L435.39,44.90 L437.16,43.65 L438.94,42.41 L440.71,41.16 L442.49,39.90 L444.26,38.65 L446.04,37.39 L447.81,36.13 L449.59,34.88 L451.36,33.64 L453.13,32.40 L453.31,32.28 L453.48,32.16 L453.65,32.04 L453.82,31.91 L453.99,31.79 L454.16,31.67 L454.33,31.55 L454.50,31.43 L454.67,31.31 L454.84,31.19 L455.01,31.06 L455.18,30.94 L455.35,30.82 L455.52,30.70 L455.69,30.57 L455.86,30.45 L456.03,30.33 L456.20,30.20 L456.37,30.08 L456.54,29.95 L456.71,29.83 L456.88,29.71 L457.05,29.58 L457.22,29.46 L457.39,29.33 L457.56,29.21 L457.73,29.08 L457.90,28.96 L458.07,28.83 L458.24,28.71 L458.41,28.58 L458.58,28.46 L458.75,28.33 L458.92,28.21 L459.10,28.08 L459.27,27.96 L459.44,27.83 L459.61,27.71 L459.78,27.58 L459.95,27.46 L460.12,27.33 L460.29,27.21 L460.46,27.08 L460.63,26.96 L460.80,26.83 L460.97,26.71 L461.14,26.58 L461.31,26.46 L461.48,26.33 L461.65,26.21 L461.82,26.08 L461.99,25.96 L462.16,25.83 L462.33,25.71 L462.50,25.58 L462.67,25.46 L462.84,25.33 L463.01,25.21 L463.18,25.08 L463.35,24.96 L463.52,24.83 L463.69,24.71 L463.86,24.58 L464.03,24.46 L464.20,24.33 L464.37,24.21 L464.54,24.08 L464.71,23.96 L464.88,23.83 L465.06,23.71 L465.23,23.58 L465.40,23.46 L465.57,23.33 L465.74,23.21 L465.91,23.08 L466.08,22.96 L466.25,22.83 L466.42,22.71 L466.59,22.58 L466.61,22.57 L466.62,22.56 L466.64,22.55 L466.66,22.53 L466.68,22.52 L466.69,22.51 L466.71,22.49 L466.73,22.48 L466.75,22.47 L466.76,22.46 L466.78,22.44 L466.80,22.43 L466.82,22.42 L466.83,22.40 L466.85,22.39 L466.87,22.38 L466.89,22.37 L466.90,22.35 L466.92,22.34 L466.94,22.33 L466.96,22.31 L466.97,22.30 L466.99,22.29 L467.01,22.28 L467.03,22.26 L467.04,22.25 L467.06,22.24 L467.08,22.22 L467.10,22.21" fill="none" stroke="#009a4e" stroke-width="1.8" stroke-dasharray="4.6 2.8" stroke-linejoin="round"/>
<path d="M64.50,329.15 L66.27,326.44 L68.05,323.75 L69.82,321.10 L71.60,318.47 L73.37,315.88 L75.15,313.32 L76.92,310.79 L78.70,308.29 L80.47,305.81 L82.25,303.37 L84.02,300.96 L85.80,298.58 L87.57,296.23 L89.34,293.90 L91.12,291.61 L92.89,289.34 L94.67,287.10 L96.44,284.89 L98.22,282.70 L99.99,280.55 L101.77,278.42 L103.54,276.31 L105.32,274.24 L107.09,272.19 L108.86,270.16 L110.64,268.16 L112.41,266.19 L114.19,264.24 L115.96,262.32 L117.74,260.42 L119.51,258.55 L121.29,256.70 L123.06,254.88 L124.84,253.08 L126.61,251.30 L128.39,249.55 L130.16,247.82 L131.93,246.11 L133.71,244.43 L135.48,242.76 L137.26,241.12 L139.03,239.50 L140.81,237.91 L142.58,236.33 L144.36,234.78 L146.13,233.24 L147.91,231.73 L149.68,230.24 L151.45,228.77 L153.23,227.32 L155.00,225.88 L156.78,224.47 L158.55,223.08 L160.33,221.70 L162.10,220.34 L163.88,219.01 L165.65,217.69 L167.43,216.39 L169.20,215.10 L170.98,213.83 L172.75,212.59 L174.52,211.35 L176.30,210.14 L178.07,208.94 L179.85,207.75 L181.62,206.59 L183.40,205.44 L185.17,204.30 L186.95,203.18 L188.72,202.07 L190.50,200.98 L192.27,199.91 L194.05,198.85 L195.82,197.80 L197.59,196.78 L199.37,195.76 L201.14,194.77 L202.92,193.79 L204.69,192.82 L206.47,191.87 L208.24,190.94 L210.02,190.03 L211.79,189.13 L213.57,188.24 L215.34,187.38 L217.11,186.53 L218.89,185.70 L220.66,184.89 L222.44,184.09 L224.21,183.31 L225.99,182.55 L227.76,181.81 L229.54,181.08 L231.31,180.38 L233.09,179.69 L234.86,179.02 L236.64,178.36 L238.41,177.73 L240.18,177.11 L241.96,176.51 L243.73,175.91 L245.51,175.32 L247.28,174.74 L249.06,174.15 L250.83,173.56 L252.61,172.97 L254.38,172.37 L256.16,171.75 L257.93,171.13 L259.70,170.48 L261.48,169.82 L263.25,169.14 L265.03,168.44 L266.80,167.72 L268.58,166.99 L270.35,166.25 L272.13,165.49 L273.90,164.71 L275.68,163.92 L277.45,163.11 L279.23,162.30 L281.00,161.46 L282.77,160.62 L284.55,159.76 L286.32,158.88 L288.10,158.00 L289.87,157.10 L291.65,156.19 L293.42,155.27 L295.20,154.34 L296.97,153.40 L298.75,152.44 L300.52,151.47 L302.29,150.49 L304.07,149.50 L305.84,148.49 L307.62,147.48 L309.39,146.45 L311.17,145.42 L312.94,144.37 L314.72,143.31 L316.49,142.24 L318.27,141.16 L320.04,140.07 L321.82,138.97 L323.59,137.85 L325.36,136.73 L327.14,135.60 L328.91,134.45 L330.69,133.30 L332.46,132.14 L334.24,130.96 L336.01,129.78 L337.79,128.59 L339.56,127.38 L341.34,126.17 L343.11,124.95 L344.89,123.72 L346.66,122.48 L348.43,121.23 L350.21,119.97 L351.98,118.70 L353.76,117.43 L355.53,116.14 L357.31,114.85 L359.08,113.55 L360.86,112.24 L362.63,110.92 L364.41,109.59 L366.18,108.26 L367.95,106.91 L369.73,105.56 L371.50,104.20 L373.28,102.84 L375.05,101.46 L376.83,100.08 L378.60,98.69 L380.38,97.29 L382.15,95.89 L383.93,94.48 L385.70,93.06 L387.48,91.63 L389.25,90.20 L391.02,88.76 L392.80,87.32 L394.57,85.86 L396.35,84.41 L398.12,82.94 L399.90,81.47 L401.67,79.99 L403.45,78.51 L405.22,77.02 L407.00,75.53 L408.77,74.03 L410.54,72.52 L412.32,71.01 L414.09,69.49 L415.87,67.97 L417.64,66.44 L419.42,64.91 L421.19,63.38 L422.97,61.83 L424.74,60.29 L426.52,58.74 L428.29,57.18 L430.07,55.63 L431.84,54.06 L433.61,52.50 L435.39,50.92 L437.16,49.35 L438.94,47.77 L440.71,46.19 L442.49,44.61 L444.26,43.02 L446.04,41.43 L447.81,39.83 L449.59,38.25 L451.36,36.68 L453.13,35.11 L453.31,34.95 L453.48,34.80 L453.65,34.65 L453.82,34.50 L453.99,34.34 L454.16,34.19 L454.33,34.03 L454.50,33.88 L454.67,33.73 L454.84,33.57 L455.01,33.42 L455.18,33.26 L455.35,33.11 L455.52,32.95 L455.69,32.80 L455.86,32.64 L456.03,32.48 L456.20,32.33 L456.37,32.17 L456.54,32.01 L456.71,31.86 L456.88,31.70 L457.05,31.54 L457.22,31.38 L457.39,31.23 L457.56,31.07 L457.73,30.91 L457.90,30.75 L458.07,30.60 L458.24,30.44 L458.41,30.28 L458.58,30.12 L458.75,29.96 L458.92,29.80 L459.10,29.65 L459.27,29.49 L459.44,29.33 L459.61,29.17 L459.78,29.01 L459.95,28.86 L460.12,28.70 L460.29,28.54 L460.46,28.38 L460.63,28.22 L460.80,28.06 L460.97,27.91 L461.14,27.75 L461.31,27.59 L461.48,27.43 L461.65,27.27 L461.82,27.12 L461.99,26.96 L462.16,26.80 L462.33,26.64 L462.50,26.48 L462.67,26.32 L462.84,26.17 L463.01,26.01 L463.18,25.85 L463.35,25.69 L463.52,25.53 L463.69,25.38 L463.86,25.22 L464.03,25.06 L464.20,24.90 L464.37,24.74 L464.54,24.58 L464.71,24.43 L464.88,24.27 L465.06,24.11 L465.23,23.95 L465.40,23.79 L465.57,23.64 L465.74,23.48 L465.91,23.32 L466.08,23.16 L466.25,23.00 L466.42,22.84 L466.59,22.69 L466.61,22.67 L466.62,22.65 L466.64,22.64 L466.66,22.62 L466.68,22.60 L466.69,22.59 L466.71,22.57 L466.73,22.56 L466.75,22.54 L466.76,22.52 L466.78,22.51 L466.80,22.49 L466.82,22.47 L466.83,22.46 L466.85,22.44 L466.87,22.43 L466.89,22.41 L466.90,22.39 L466.92,22.38 L466.94,22.36 L466.96,22.34 L466.97,22.33 L466.99,22.31 L467.01,22.30 L467.03,22.28 L467.04,22.26 L467.06,22.25 L467.08,22.23 L467.10,22.21" fill="none" stroke="#00a3e0" stroke-width="1.8" stroke-dasharray="4.6 2.8" stroke-linejoin="round"/>
<line x1="64.5" y1="31.4" x2="467.10" y2="31.4" stroke="#f01c32" stroke-width="1.1" stroke-dasharray="1.75 1.75"/>
<rect x="64.5" y="11.4" width="408.7" height="321.40000000000003" fill="none" stroke="#231f20" stroke-width="1.3"/>
<path d="M64.50,332.8 v-5 M64.50,11.4 v5 M114.33,332.8 v-5 M114.33,11.4 v5 M164.15,332.8 v-5 M164.15,11.4 v5 M213.98,332.8 v-5 M213.98,11.4 v5 M263.80,332.8 v-5 M263.80,11.4 v5 M313.62,332.8 v-5 M313.62,11.4 v5 M363.45,332.8 v-5 M363.45,11.4 v5 M413.28,332.8 v-5 M413.28,11.4 v5 M463.10,332.8 v-5 M463.10,11.4 v5 M64.5,22.20 h5 M473.2,22.20 h-5 M64.5,66.58 h5 M473.2,66.58 h-5 M64.5,110.96 h5 M473.2,110.96 h-5 M64.5,155.34 h5 M473.2,155.34 h-5 M64.5,199.72 h5 M473.2,199.72 h-5 M64.5,244.10 h5 M473.2,244.10 h-5 M64.5,288.48 h5 M473.2,288.48 h-5 M64.5,332.86 h5 M473.2,332.86 h-5" stroke="#231f20" stroke-width="1.3" fill="none"/>
<text transform="translate(59.70,27.70) scale(1.03,1)" font-size="15.5" text-anchor="end" fill="#111" stroke="#111" stroke-width="0.12">0</text>
<text transform="translate(57.90,72.08) scale(1.03,1)" font-size="15.5" text-anchor="end" fill="#111" stroke="#111" stroke-width="0.12">−20</text>
<text transform="translate(57.90,116.46) scale(1.03,1)" font-size="15.5" text-anchor="end" fill="#111" stroke="#111" stroke-width="0.12">−40</text>
<text transform="translate(57.90,160.84) scale(1.03,1)" font-size="15.5" text-anchor="end" fill="#111" stroke="#111" stroke-width="0.12">−60</text>
<text transform="translate(57.90,205.22) scale(1.03,1)" font-size="15.5" text-anchor="end" fill="#111" stroke="#111" stroke-width="0.12">−80</text>
<text transform="translate(57.90,249.60) scale(1.03,1)" font-size="15.5" text-anchor="end" fill="#111" stroke="#111" stroke-width="0.12">−100</text>
<text transform="translate(57.90,293.98) scale(1.03,1)" font-size="15.5" text-anchor="end" fill="#111" stroke="#111" stroke-width="0.12">−120</text>
<text transform="translate(57.90,338.36) scale(1.03,1)" font-size="15.5" text-anchor="end" fill="#111" stroke="#111" stroke-width="0.12">−140</text>
<text transform="translate(64.50,350.60) scale(1.03,1)" font-size="15.5" text-anchor="middle" fill="#111" stroke="#111" stroke-width="0.12">0</text>
<text transform="translate(114.33,350.60) scale(1.03,1)" font-size="15.5" text-anchor="middle" fill="#111" stroke="#111" stroke-width="0.12">0.5</text>
<text transform="translate(164.15,350.60) scale(1.03,1)" font-size="15.5" text-anchor="middle" fill="#111" stroke="#111" stroke-width="0.12">1.0</text>
<text transform="translate(213.98,350.60) scale(1.03,1)" font-size="15.5" text-anchor="middle" fill="#111" stroke="#111" stroke-width="0.12">1.5</text>
<text transform="translate(263.80,350.60) scale(1.03,1)" font-size="15.5" text-anchor="middle" fill="#111" stroke="#111" stroke-width="0.12">2.0</text>
<text transform="translate(313.62,350.60) scale(1.03,1)" font-size="15.5" text-anchor="middle" fill="#111" stroke="#111" stroke-width="0.12">2.5</text>
<text transform="translate(363.45,350.60) scale(1.03,1)" font-size="15.5" text-anchor="middle" fill="#111" stroke="#111" stroke-width="0.12">3.0</text>
<text transform="translate(413.28,350.60) scale(1.03,1)" font-size="15.5" text-anchor="middle" fill="#111" stroke="#111" stroke-width="0.12">3.5</text>
<text transform="translate(463.10,350.60) scale(1.03,1)" font-size="15.5" text-anchor="middle" fill="#111" stroke="#111" stroke-width="0.12">4.0</text>
<text transform="translate(427.00,331.00) scale(1.03,1)" font-size="15.5" text-anchor="start" fill="#111" stroke="#111" stroke-width="0.12">×10</text>
<text transform="translate(454.80,322.30) scale(1.03,1)" font-size="11" text-anchor="start" fill="#111" stroke="#111" stroke-width="0.12">4</text>
<text transform="translate(271.50,370.70) scale(1.025,1)" font-size="15.5" text-anchor="middle" fill="#111" stroke="#111" stroke-width="0.12">Number of eigenvalues</text>
<text transform="translate(12.90,177.55) rotate(-90) scale(1.03,1)" font-size="15.5" text-anchor="middle" fill="#111" stroke="#111" stroke-width="0.12">Values of&#160;&#160;eigenvalues</text>
<text x="2" y="17" font-size="22.5" font-weight="bold" fill="#000">A</text>
<rect x="565.5" y="252.5" width="402.52" height="80.5" fill="#fad9cb"/>
<path d="M565.50,236.11 L567.27,235.94 L569.05,235.78 L570.82,235.61 L572.60,235.45 L574.37,235.28 L576.15,235.12 L577.92,234.95 L579.69,234.79 L581.47,234.63 L583.24,234.47 L585.02,234.31 L586.79,234.15 L588.57,233.99 L590.34,233.83 L592.11,233.67 L593.89,233.51 L595.66,233.35 L597.44,233.20 L599.21,233.04 L600.98,232.88 L602.76,232.73 L604.53,232.58 L606.31,232.42 L608.08,232.27 L609.86,232.12 L611.63,231.97 L613.40,231.82 L615.18,231.67 L616.95,231.52 L618.73,231.37 L620.50,231.22 L622.28,231.07 L624.05,230.93 L625.82,230.78 L627.60,230.64 L629.37,230.49 L631.15,230.35 L632.92,230.21 L634.70,230.07 L636.47,229.93 L638.24,229.79 L640.02,229.65 L641.79,229.51 L643.57,229.37 L645.34,229.24 L647.11,229.10 L648.89,228.97 L650.66,228.83 L652.44,228.70 L654.21,228.57 L655.99,228.44 L657.76,228.31 L659.53,228.18 L661.31,228.05 L663.08,227.92 L664.86,227.80 L666.63,227.67 L668.41,227.55 L670.18,227.42 L671.95,227.30 L673.73,227.18 L675.50,227.05 L677.28,226.93 L679.05,226.81 L680.83,226.70 L682.60,226.58 L684.37,226.46 L686.15,226.34 L687.92,226.23 L689.70,226.11 L691.47,226.00 L693.24,225.89 L695.02,225.78 L696.79,225.66 L698.57,225.55 L700.34,225.45 L702.12,225.34 L703.89,225.23 L705.66,225.13 L707.44,225.02 L709.21,224.92 L710.99,224.82 L712.76,224.72 L714.54,224.62 L716.31,224.52 L718.08,224.42 L719.86,224.33 L721.63,224.24 L723.41,224.14 L725.18,224.05 L726.96,223.97 L728.73,223.88 L730.50,223.79 L732.28,223.71 L734.05,223.63 L735.83,223.55 L737.60,223.47 L739.37,223.39 L741.15,223.32 L742.92,223.25 L744.70,223.17 L746.47,223.10 L748.25,223.03 L750.02,222.96 L751.79,222.89 L753.57,222.81 L755.34,222.74 L757.12,222.66 L758.89,222.58 L760.67,222.50 L762.44,222.42 L764.21,222.33 L765.99,222.24 L767.76,222.15 L769.54,222.06 L771.31,221.96 L773.09,221.86 L774.86,221.76 L776.63,221.66 L778.41,221.55 L780.18,221.44 L781.96,221.33 L783.73,221.21 L785.50,221.10 L787.28,220.98 L789.05,220.86 L790.83,220.73 L792.60,220.61 L794.38,220.48 L796.15,220.35 L797.92,220.21 L799.70,220.08 L801.47,219.94 L803.25,219.79 L805.02,219.65 L806.80,219.50 L808.57,219.35 L810.34,219.20 L812.12,219.04 L813.89,218.88 L815.67,218.72 L817.44,218.55 L819.22,218.38 L820.99,218.21 L822.76,218.03 L824.54,217.85 L826.31,217.67 L828.09,217.49 L829.86,217.30 L831.63,217.10 L833.41,216.91 L835.18,216.71 L836.96,216.50 L838.73,216.29 L840.51,216.08 L842.28,215.86 L844.05,215.64 L845.83,215.42 L847.60,215.19 L849.38,214.95 L851.15,214.71 L852.93,214.47 L854.70,214.22 L856.47,213.97 L858.25,213.71 L860.02,213.44 L861.80,213.17 L863.57,212.90 L865.35,212.62 L867.12,212.33 L868.89,212.03 L870.67,211.73 L872.44,211.42 L874.22,211.11 L875.99,210.79 L877.76,210.46 L879.54,210.12 L881.31,209.78 L883.09,209.43 L884.86,209.06 L886.64,208.69 L888.41,208.31 L890.18,207.92 L891.96,207.52 L893.73,207.11 L895.51,206.69 L897.28,206.26 L899.06,205.81 L900.83,205.35 L902.60,204.88 L904.38,204.40 L906.15,203.89 L907.93,203.38 L909.70,202.84 L911.48,202.29 L913.25,201.72 L915.02,201.13 L916.80,200.52 L918.57,199.89 L920.35,199.23 L922.12,198.54 L923.90,197.83 L925.67,197.08 L927.44,196.31 L929.22,195.49 L930.99,194.64 L932.77,193.75 L934.54,192.80 L936.31,191.81 L938.09,190.75 L939.86,189.63 L941.64,188.44 L943.41,187.16 L945.19,185.79 L946.96,184.30 L948.73,182.68 L950.51,180.92 L952.28,179.00 L954.06,176.85 L954.23,176.62 L954.40,176.40 L954.57,176.17 L954.74,175.94 L954.91,175.70 L955.08,175.47 L955.25,175.23 L955.42,174.98 L955.59,174.73 L955.76,174.48 L955.93,174.22 L956.10,173.96 L956.27,173.70 L956.44,173.43 L956.61,173.16 L956.78,172.88 L956.95,172.60 L957.12,172.31 L957.29,172.02 L957.46,171.72 L957.63,171.42 L957.80,171.12 L957.97,170.80 L958.14,170.48 L958.31,170.16 L958.48,169.83 L958.65,169.50 L958.82,169.15 L958.99,168.80 L959.16,168.45 L959.33,168.09 L959.51,167.72 L959.68,167.34 L959.85,166.95 L960.02,166.56 L960.19,166.16 L960.36,165.75 L960.53,165.33 L960.70,164.90 L960.87,164.46 L961.04,164.01 L961.21,163.55 L961.38,163.08 L961.55,162.59 L961.72,162.09 L961.89,161.58 L962.06,161.06 L962.23,160.52 L962.40,159.96 L962.57,159.39 L962.74,158.79 L962.91,158.18 L963.08,157.55 L963.25,156.89 L963.42,156.22 L963.59,155.51 L963.76,154.78 L963.93,154.02 L964.10,153.23 L964.27,152.40 L964.44,151.53 L964.61,150.62 L964.78,149.67 L964.95,148.66 L965.12,147.59 L965.29,146.47 L965.46,145.26 L965.63,143.98 L965.80,142.60 L965.97,141.11 L966.15,139.50 L966.32,137.73 L966.49,135.77 L966.66,133.59 L966.83,131.11 L967.00,128.26 L967.17,124.90 L967.34,120.79 L967.51,115.53 L967.52,114.89 L967.54,114.23 L967.56,113.55 L967.58,112.84 L967.59,112.10 L967.61,111.33 L967.63,110.53 L967.65,109.69 L967.66,108.82 L967.68,107.90 L967.70,106.93 L967.72,105.91 L967.73,104.84 L967.75,103.69 L967.77,102.48 L967.79,101.17 L967.80,99.77 L967.82,98.26 L967.84,96.61 L967.86,94.81 L967.87,92.81 L967.89,90.57 L967.91,88.02 L967.93,85.08 L967.95,81.58 L967.96,77.27 L967.98,71.67 L968.00,63.63 L968.02,49.21" fill="none" stroke="#000000" stroke-width="1.8" stroke-dasharray="4.6 2.8" stroke-linejoin="round"/>
<path d="M565.50,262.03 L567.27,261.87 L569.05,261.70 L570.82,261.54 L572.60,261.37 L574.37,261.21 L576.15,261.04 L577.92,260.88 L579.69,260.72 L581.47,260.55 L583.24,260.39 L585.02,260.23 L586.79,260.07 L588.57,259.91 L590.34,259.75 L592.11,259.59 L593.89,259.44 L595.66,259.28 L597.44,259.12 L599.21,258.96 L600.98,258.81 L602.76,258.65 L604.53,258.50 L606.31,258.35 L608.08,258.19 L609.86,258.04 L611.63,257.89 L613.40,257.74 L615.18,257.59 L616.95,257.44 L618.73,257.29 L620.50,257.15 L622.28,257.00 L624.05,256.85 L625.82,256.71 L627.60,256.56 L629.37,256.42 L631.15,256.28 L632.92,256.13 L634.70,255.99 L636.47,255.85 L638.24,255.71 L640.02,255.57 L641.79,255.44 L643.57,255.30 L645.34,255.16 L647.11,255.03 L648.89,254.89 L650.66,254.76 L652.44,254.63 L654.21,254.49 L655.99,254.36 L657.76,254.23 L659.53,254.10 L661.31,253.98 L663.08,253.85 L664.86,253.72 L666.63,253.60 L668.41,253.47 L670.18,253.35 L671.95,253.22 L673.73,253.10 L675.50,252.98 L677.28,252.86 L679.05,252.74 L680.83,252.62 L682.60,252.50 L684.37,252.39 L686.15,252.27 L687.92,252.15 L689.70,252.04 L691.47,251.93 L693.24,251.81 L695.02,251.70 L696.79,251.59 L698.57,251.48 L700.34,251.37 L702.12,251.26 L703.89,251.16 L705.66,251.05 L707.44,250.95 L709.21,250.84 L710.99,250.74 L712.76,250.64 L714.54,250.54 L716.31,250.44 L718.08,250.35 L719.86,250.25 L721.63,250.16 L723.41,250.07 L725.18,249.98 L726.96,249.89 L728.73,249.80 L730.50,249.72 L732.28,249.63 L734.05,249.55 L735.83,249.47 L737.60,249.40 L739.37,249.32 L741.15,249.24 L742.92,249.17 L744.70,249.10 L746.47,249.03 L748.25,248.96 L750.02,248.88 L751.79,248.81 L753.57,248.74 L755.34,248.66 L757.12,248.59 L758.89,248.51 L760.67,248.43 L762.44,248.34 L764.21,248.26 L765.99,248.17 L767.76,248.08 L769.54,247.98 L771.31,247.89 L773.09,247.79 L774.86,247.68 L776.63,247.58 L778.41,247.47 L780.18,247.36 L781.96,247.25 L783.73,247.14 L785.50,247.02 L787.28,246.90 L789.05,246.78 L790.83,246.66 L792.60,246.53 L794.38,246.40 L796.15,246.27 L797.92,246.14 L799.70,246.00 L801.47,245.86 L803.25,245.72 L805.02,245.57 L806.80,245.43 L808.57,245.27 L810.34,245.12 L812.12,244.96 L813.89,244.80 L815.67,244.64 L817.44,244.48 L819.22,244.31 L820.99,244.13 L822.76,243.96 L824.54,243.78 L826.31,243.60 L828.09,243.41 L829.86,243.22 L831.63,243.03 L833.41,242.83 L835.18,242.63 L836.96,242.43 L838.73,242.22 L840.51,242.00 L842.28,241.79 L844.05,241.57 L845.83,241.34 L847.60,241.11 L849.38,240.88 L851.15,240.64 L852.93,240.39 L854.70,240.15 L856.47,239.89 L858.25,239.63 L860.02,239.37 L861.80,239.10 L863.57,238.82 L865.35,238.54 L867.12,238.25 L868.89,237.96 L870.67,237.66 L872.44,237.35 L874.22,237.04 L875.99,236.71 L877.76,236.38 L879.54,236.05 L881.31,235.70 L883.09,235.35 L884.86,234.99 L886.64,234.62 L888.41,234.24 L890.18,233.85 L891.96,233.45 L893.73,233.04 L895.51,232.62 L897.28,232.18 L899.06,231.74 L900.83,231.28 L902.60,230.81 L904.38,230.32 L906.15,229.82 L907.93,229.30 L909.70,228.77 L911.48,228.22 L913.25,227.65 L915.02,227.06 L916.80,226.44 L918.57,225.81 L920.35,225.15 L922.12,224.47 L923.90,223.75 L925.67,223.01 L927.44,222.23 L929.22,221.42 L930.99,220.57 L932.77,219.67 L934.54,218.73 L936.31,217.73 L938.09,216.68 L939.86,215.56 L941.64,214.36 L943.41,213.09 L945.19,211.71 L946.96,210.22 L948.73,208.60 L950.51,206.84 L952.28,204.92 L954.06,202.77 L954.23,202.55 L954.40,202.32 L954.57,202.10 L954.74,201.86 L954.91,201.63 L955.08,201.39 L955.25,201.15 L955.42,200.91 L955.59,200.66 L955.76,200.40 L955.93,200.15 L956.10,199.89 L956.27,199.62 L956.44,199.36 L956.61,199.08 L956.78,198.80 L956.95,198.52 L957.12,198.24 L957.29,197.94 L957.46,197.65 L957.63,197.35 L957.80,197.04 L957.97,196.73 L958.14,196.41 L958.31,196.09 L958.48,195.76 L958.65,195.42 L958.82,195.08 L958.99,194.73 L959.16,194.37 L959.33,194.01 L959.51,193.64 L959.68,193.26 L959.85,192.88 L960.02,192.49 L960.19,192.08 L960.36,191.67 L960.53,191.25 L960.70,190.82 L960.87,190.39 L961.04,189.94 L961.21,189.47 L961.38,189.00 L961.55,188.52 L961.72,188.02 L961.89,187.51 L962.06,186.98 L962.23,186.44 L962.40,185.88 L962.57,185.31 L962.74,184.72 L962.91,184.11 L963.08,183.47 L963.25,182.82 L963.42,182.14 L963.59,181.44 L963.76,180.71 L963.93,179.94 L964.10,179.15 L964.27,178.32 L964.44,177.46 L964.61,176.55 L964.78,175.59 L964.95,174.58 L965.12,173.52 L965.29,172.39 L965.46,171.19 L965.63,169.91 L965.80,168.53 L965.97,167.04 L966.15,165.42 L966.32,163.65 L966.49,161.70 L966.66,159.51 L966.83,157.04 L967.00,154.19 L967.17,150.82 L967.34,146.72 L967.51,141.45 L967.52,140.81 L967.54,140.15 L967.56,139.47 L967.58,138.76 L967.59,138.02 L967.61,137.26 L967.63,136.46 L967.65,135.62 L967.66,134.74 L967.68,133.82 L967.70,132.86 L967.72,131.84 L967.73,130.76 L967.75,129.62 L967.77,128.40 L967.79,127.10 L967.80,125.70 L967.82,124.18 L967.84,122.54 L967.86,120.73 L967.87,118.73 L967.89,116.49 L967.91,113.95 L967.93,111.00 L967.95,107.50 L967.96,103.20 L967.98,97.59 L968.00,89.55 L968.02,75.14" fill="none" stroke="#808080" stroke-width="1.8" stroke-linejoin="round"/>
<path d="M565.50,277.20 L567.27,277.03 L569.05,276.87 L570.82,276.70 L572.60,276.54 L574.37,276.37 L576.15,276.21 L577.92,276.04 L579.69,275.88 L581.47,275.72 L583.24,275.56 L585.02,275.40 L586.79,275.24 L588.57,275.08 L590.34,274.92 L592.11,274.76 L593.89,274.60 L595.66,274.44 L597.44,274.29 L599.21,274.13 L600.98,273.97 L602.76,273.82 L604.53,273.67 L606.31,273.51 L608.08,273.36 L609.86,273.21 L611.63,273.06 L613.40,272.91 L615.18,272.76 L616.95,272.61 L618.73,272.46 L620.50,272.31 L622.28,272.16 L624.05,272.02 L625.82,271.87 L627.60,271.73 L629.37,271.58 L631.15,271.44 L632.92,271.30 L634.70,271.16 L636.47,271.02 L638.24,270.88 L640.02,270.74 L641.79,270.60 L643.57,270.46 L645.34,270.33 L647.11,270.19 L648.89,270.06 L650.66,269.92 L652.44,269.79 L654.21,269.66 L655.99,269.53 L657.76,269.40 L659.53,269.27 L661.31,269.14 L663.08,269.01 L664.86,268.89 L666.63,268.76 L668.41,268.64 L670.18,268.51 L671.95,268.39 L673.73,268.27 L675.50,268.14 L677.28,268.02 L679.05,267.90 L680.83,267.79 L682.60,267.67 L684.37,267.55 L686.15,267.43 L687.92,267.32 L689.70,267.20 L691.47,267.09 L693.24,266.98 L695.02,266.87 L696.79,266.75 L698.57,266.64 L700.34,266.54 L702.12,266.43 L703.89,266.32 L705.66,266.22 L707.44,266.11 L709.21,266.01 L710.99,265.91 L712.76,265.81 L714.54,265.71 L716.31,265.61 L718.08,265.51 L719.86,265.42 L721.63,265.33 L723.41,265.23 L725.18,265.14 L726.96,265.06 L728.73,264.97 L730.50,264.88 L732.28,264.80 L734.05,264.72 L735.83,264.64 L737.60,264.56 L739.37,264.48 L741.15,264.41 L742.92,264.34 L744.70,264.26 L746.47,264.19 L748.25,264.12 L750.02,264.05 L751.79,263.98 L753.57,263.90 L755.34,263.83 L757.12,263.75 L758.89,263.67 L760.67,263.59 L762.44,263.51 L764.21,263.42 L765.99,263.33 L767.76,263.24 L769.54,263.15 L771.31,263.05 L773.09,262.95 L774.86,262.85 L776.63,262.75 L778.41,262.64 L780.18,262.53 L781.96,262.42 L783.73,262.30 L785.50,262.19 L787.28,262.07 L789.05,261.95 L790.83,261.82 L792.60,261.70 L794.38,261.57 L796.15,261.44 L797.92,261.30 L799.70,261.17 L801.47,261.03 L803.25,260.88 L805.02,260.74 L806.80,260.59 L808.57,260.44 L810.34,260.29 L812.12,260.13 L813.89,259.97 L815.67,259.81 L817.44,259.64 L819.22,259.47 L820.99,259.30 L822.76,259.12 L824.54,258.94 L826.31,258.76 L828.09,258.58 L829.86,258.39 L831.63,258.19 L833.41,258.00 L835.18,257.80 L836.96,257.59 L838.73,257.38 L840.51,257.17 L842.28,256.95 L844.05,256.73 L845.83,256.51 L847.60,256.28 L849.38,256.04 L851.15,255.80 L852.93,255.56 L854.70,255.31 L856.47,255.06 L858.25,254.80 L860.02,254.53 L861.80,254.26 L863.57,253.99 L865.35,253.70 L867.12,253.42 L868.89,253.12 L870.67,252.82 L872.44,252.51 L874.22,252.20 L875.99,251.88 L877.76,251.55 L879.54,251.21 L881.31,250.87 L883.09,250.52 L884.86,250.15 L886.64,249.78 L888.41,249.40 L890.18,249.01 L891.96,248.61 L893.73,248.20 L895.51,247.78 L897.28,247.35 L899.06,246.90 L900.83,246.44 L902.60,245.97 L904.38,245.48 L906.15,244.98 L907.93,244.47 L909.70,243.93 L911.48,243.38 L913.25,242.81 L915.02,242.22 L916.80,241.61 L918.57,240.97 L920.35,240.32 L922.12,239.63 L923.90,238.92 L925.67,238.17 L927.44,237.40 L929.22,236.58 L930.99,235.73 L932.77,234.84 L934.54,233.89 L936.31,232.90 L938.09,231.84 L939.86,230.72 L941.64,229.53 L943.41,228.25 L945.19,226.88 L946.96,225.39 L948.73,223.77 L950.51,222.01 L952.28,220.09 L954.06,217.94 L954.23,217.71 L954.40,217.49 L954.57,217.26 L954.74,217.03 L954.91,216.79 L955.08,216.56 L955.25,216.32 L955.42,216.07 L955.59,215.82 L955.76,215.57 L955.93,215.31 L956.10,215.05 L956.27,214.79 L956.44,214.52 L956.61,214.25 L956.78,213.97 L956.95,213.69 L957.12,213.40 L957.29,213.11 L957.46,212.81 L957.63,212.51 L957.80,212.20 L957.97,211.89 L958.14,211.57 L958.31,211.25 L958.48,210.92 L958.65,210.58 L958.82,210.24 L958.99,209.89 L959.16,209.54 L959.33,209.18 L959.51,208.81 L959.68,208.43 L959.85,208.04 L960.02,207.65 L960.19,207.25 L960.36,206.84 L960.53,206.42 L960.70,205.99 L960.87,205.55 L961.04,205.10 L961.21,204.64 L961.38,204.17 L961.55,203.68 L961.72,203.18 L961.89,202.67 L962.06,202.15 L962.23,201.61 L962.40,201.05 L962.57,200.47 L962.74,199.88 L962.91,199.27 L963.08,198.64 L963.25,197.98 L963.42,197.31 L963.59,196.60 L963.76,195.87 L963.93,195.11 L964.10,194.32 L964.27,193.49 L964.44,192.62 L964.61,191.71 L964.78,190.76 L964.95,189.75 L965.12,188.68 L965.29,187.56 L965.46,186.35 L965.63,185.07 L965.80,183.69 L965.97,182.20 L966.15,180.59 L966.32,178.82 L966.49,176.86 L966.66,174.68 L966.83,172.20 L967.00,169.35 L967.17,165.99 L967.34,161.88 L967.51,156.62 L967.52,155.98 L967.54,155.32 L967.56,154.64 L967.58,153.93 L967.59,153.19 L967.61,152.42 L967.63,151.62 L967.65,150.78 L967.66,149.91 L967.68,148.99 L967.70,148.02 L967.72,147.00 L967.73,145.93 L967.75,144.78 L967.77,143.57 L967.79,142.26 L967.80,140.86 L967.82,139.35 L967.84,137.70 L967.86,135.90 L967.87,133.90 L967.89,131.66 L967.91,129.11 L967.93,126.17 L967.95,122.67 L967.96,118.36 L967.98,112.76 L968.00,104.71 L968.02,90.30" fill="none" stroke="#25197e" stroke-width="1.8" stroke-linejoin="round"/>
<path d="M565.50,287.96 L567.27,287.79 L569.05,287.63 L570.82,287.46 L572.60,287.30 L574.37,287.13 L576.15,286.97 L577.92,286.80 L579.69,286.64 L581.47,286.48 L583.24,286.32 L585.02,286.16 L586.79,286.00 L588.57,285.84 L590.34,285.68 L592.11,285.52 L593.89,285.36 L595.66,285.20 L597.44,285.05 L599.21,284.89 L600.98,284.73 L602.76,284.58 L604.53,284.42 L606.31,284.27 L608.08,284.12 L609.86,283.97 L611.63,283.82 L613.40,283.66 L615.18,283.51 L616.95,283.37 L618.73,283.22 L620.50,283.07 L622.28,282.92 L624.05,282.78 L625.82,282.63 L627.60,282.49 L629.37,282.34 L631.15,282.20 L632.92,282.06 L634.70,281.92 L636.47,281.78 L638.24,281.64 L640.02,281.50 L641.79,281.36 L643.57,281.22 L645.34,281.09 L647.11,280.95 L648.89,280.82 L650.66,280.68 L652.44,280.55 L654.21,280.42 L655.99,280.29 L657.76,280.16 L659.53,280.03 L661.31,279.90 L663.08,279.77 L664.86,279.65 L666.63,279.52 L668.41,279.40 L670.18,279.27 L671.95,279.15 L673.73,279.03 L675.50,278.90 L677.28,278.78 L679.05,278.66 L680.83,278.54 L682.60,278.43 L684.37,278.31 L686.15,278.19 L687.92,278.08 L689.70,277.96 L691.47,277.85 L693.24,277.74 L695.02,277.63 L696.79,277.51 L698.57,277.40 L700.34,277.30 L702.12,277.19 L703.89,277.08 L705.66,276.98 L707.44,276.87 L709.21,276.77 L710.99,276.67 L712.76,276.57 L714.54,276.47 L716.31,276.37 L718.08,276.27 L719.86,276.18 L721.63,276.09 L723.41,275.99 L725.18,275.90 L726.96,275.81 L728.73,275.73 L730.50,275.64 L732.28,275.56 L734.05,275.48 L735.83,275.40 L737.60,275.32 L739.37,275.24 L741.15,275.17 L742.92,275.10 L744.70,275.02 L746.47,274.95 L748.25,274.88 L750.02,274.81 L751.79,274.74 L753.57,274.66 L755.34,274.59 L757.12,274.51 L758.89,274.43 L760.67,274.35 L762.44,274.27 L764.21,274.18 L765.99,274.09 L767.76,274.00 L769.54,273.91 L771.31,273.81 L773.09,273.71 L774.86,273.61 L776.63,273.51 L778.41,273.40 L780.18,273.29 L781.96,273.18 L783.73,273.06 L785.50,272.95 L787.28,272.83 L789.05,272.71 L790.83,272.58 L792.60,272.46 L794.38,272.33 L796.15,272.20 L797.92,272.06 L799.70,271.93 L801.47,271.79 L803.25,271.64 L805.02,271.50 L806.80,271.35 L808.57,271.20 L810.34,271.05 L812.12,270.89 L813.89,270.73 L815.67,270.57 L817.44,270.40 L819.22,270.23 L820.99,270.06 L822.76,269.88 L824.54,269.70 L826.31,269.52 L828.09,269.34 L829.86,269.15 L831.63,268.95 L833.41,268.76 L835.18,268.56 L836.96,268.35 L838.73,268.14 L840.51,267.93 L842.28,267.71 L844.05,267.49 L845.83,267.27 L847.60,267.04 L849.38,266.80 L851.15,266.56 L852.93,266.32 L854.70,266.07 L856.47,265.82 L858.25,265.56 L860.02,265.29 L861.80,265.02 L863.57,264.75 L865.35,264.46 L867.12,264.18 L868.89,263.88 L870.67,263.58 L872.44,263.27 L874.22,262.96 L875.99,262.64 L877.76,262.31 L879.54,261.97 L881.31,261.63 L883.09,261.28 L884.86,260.91 L886.64,260.54 L888.41,260.16 L890.18,259.77 L891.96,259.37 L893.73,258.96 L895.51,258.54 L897.28,258.11 L899.06,257.66 L900.83,257.20 L902.60,256.73 L904.38,256.24 L906.15,255.74 L907.93,255.23 L909.70,254.69 L911.48,254.14 L913.25,253.57 L915.02,252.98 L916.80,252.37 L918.57,251.73 L920.35,251.08 L922.12,250.39 L923.90,249.68 L925.67,248.93 L927.44,248.16 L929.22,247.34 L930.99,246.49 L932.77,245.60 L934.54,244.65 L936.31,243.66 L938.09,242.60 L939.86,241.48 L941.64,240.29 L943.41,239.01 L945.19,237.64 L946.96,236.15 L948.73,234.53 L950.51,232.77 L952.28,230.85 L954.06,228.69 L954.23,228.47 L954.40,228.25 L954.57,228.02 L954.74,227.79 L954.91,227.55 L955.08,227.32 L955.25,227.07 L955.42,226.83 L955.59,226.58 L955.76,226.33 L955.93,226.07 L956.10,225.81 L956.27,225.55 L956.44,225.28 L956.61,225.01 L956.78,224.73 L956.95,224.45 L957.12,224.16 L957.29,223.87 L957.46,223.57 L957.63,223.27 L957.80,222.96 L957.97,222.65 L958.14,222.33 L958.31,222.01 L958.48,221.68 L958.65,221.34 L958.82,221.00 L958.99,220.65 L959.16,220.30 L959.33,219.93 L959.51,219.57 L959.68,219.19 L959.85,218.80 L960.02,218.41 L960.19,218.01 L960.36,217.60 L960.53,217.18 L960.70,216.75 L960.87,216.31 L961.04,215.86 L961.21,215.40 L961.38,214.93 L961.55,214.44 L961.72,213.94 L961.89,213.43 L962.06,212.91 L962.23,212.37 L962.40,211.81 L962.57,211.23 L962.74,210.64 L962.91,210.03 L963.08,209.40 L963.25,208.74 L963.42,208.07 L963.59,207.36 L963.76,206.63 L963.93,205.87 L964.10,205.08 L964.27,204.25 L964.44,203.38 L964.61,202.47 L964.78,201.52 L964.95,200.51 L965.12,199.44 L965.29,198.31 L965.46,197.11 L965.63,195.83 L965.80,194.45 L965.97,192.96 L966.15,191.35 L966.32,189.58 L966.49,187.62 L966.66,185.44 L966.83,182.96 L967.00,180.11 L967.17,176.75 L967.34,172.64 L967.51,167.38 L967.52,166.74 L967.54,166.08 L967.56,165.40 L967.58,164.69 L967.59,163.95 L967.61,163.18 L967.63,162.38 L967.65,161.54 L967.66,160.67 L967.68,159.75 L967.70,158.78 L967.72,157.76 L967.73,156.69 L967.75,155.54 L967.77,154.33 L967.79,153.02 L967.80,151.62 L967.82,150.11 L967.84,148.46 L967.86,146.66 L967.87,144.66 L967.89,142.42 L967.91,139.87 L967.93,136.93 L967.95,133.43 L967.96,129.12 L967.98,123.52 L968.00,115.47 L968.02,101.06" fill="none" stroke="#009a4e" stroke-width="1.8" stroke-linejoin="round"/>
<path d="M565.50,296.30 L567.27,296.14 L569.05,295.97 L570.82,295.81 L572.60,295.64 L574.37,295.48 L576.15,295.31 L577.92,295.15 L579.69,294.99 L581.47,294.82 L583.24,294.66 L585.02,294.50 L586.79,294.34 L588.57,294.18 L590.34,294.02 L592.11,293.86 L593.89,293.71 L595.66,293.55 L597.44,293.39 L599.21,293.24 L600.98,293.08 L602.76,292.92 L604.53,292.77 L606.31,292.62 L608.08,292.46 L609.86,292.31 L611.63,292.16 L613.40,292.01 L615.18,291.86 L616.95,291.71 L618.73,291.56 L620.50,291.42 L622.28,291.27 L624.05,291.12 L625.82,290.98 L627.60,290.83 L629.37,290.69 L631.15,290.55 L632.92,290.40 L634.70,290.26 L636.47,290.12 L638.24,289.98 L640.02,289.84 L641.79,289.71 L643.57,289.57 L645.34,289.43 L647.11,289.30 L648.89,289.16 L650.66,289.03 L652.44,288.90 L654.21,288.77 L655.99,288.63 L657.76,288.50 L659.53,288.37 L661.31,288.25 L663.08,288.12 L664.86,287.99 L666.63,287.87 L668.41,287.74 L670.18,287.62 L671.95,287.49 L673.73,287.37 L675.50,287.25 L677.28,287.13 L679.05,287.01 L680.83,286.89 L682.60,286.77 L684.37,286.66 L686.15,286.54 L687.92,286.42 L689.70,286.31 L691.47,286.20 L693.24,286.08 L695.02,285.97 L696.79,285.86 L698.57,285.75 L700.34,285.64 L702.12,285.53 L703.89,285.43 L705.66,285.32 L707.44,285.22 L709.21,285.11 L710.99,285.01 L712.76,284.91 L714.54,284.81 L716.31,284.72 L718.08,284.62 L719.86,284.52 L721.63,284.43 L723.41,284.34 L725.18,284.25 L726.96,284.16 L728.73,284.07 L730.50,283.99 L732.28,283.91 L734.05,283.82 L735.83,283.74 L737.60,283.67 L739.37,283.59 L741.15,283.52 L742.92,283.44 L744.70,283.37 L746.47,283.30 L748.25,283.23 L750.02,283.15 L751.79,283.08 L753.57,283.01 L755.34,282.93 L757.12,282.86 L758.89,282.78 L760.67,282.70 L762.44,282.61 L764.21,282.53 L765.99,282.44 L767.76,282.35 L769.54,282.25 L771.31,282.16 L773.09,282.06 L774.86,281.96 L776.63,281.85 L778.41,281.74 L780.18,281.64 L781.96,281.52 L783.73,281.41 L785.50,281.29 L787.28,281.17 L789.05,281.05 L790.83,280.93 L792.60,280.80 L794.38,280.67 L796.15,280.54 L797.92,280.41 L799.70,280.27 L801.47,280.13 L803.25,279.99 L805.02,279.84 L806.80,279.70 L808.57,279.55 L810.34,279.39 L812.12,279.23 L813.89,279.07 L815.67,278.91 L817.44,278.75 L819.22,278.58 L820.99,278.40 L822.76,278.23 L824.54,278.05 L826.31,277.87 L828.09,277.68 L829.86,277.49 L831.63,277.30 L833.41,277.10 L835.18,276.90 L836.96,276.70 L838.73,276.49 L840.51,276.28 L842.28,276.06 L844.05,275.84 L845.83,275.61 L847.60,275.38 L849.38,275.15 L851.15,274.91 L852.93,274.67 L854.70,274.42 L856.47,274.16 L858.25,273.90 L860.02,273.64 L861.80,273.37 L863.57,273.09 L865.35,272.81 L867.12,272.52 L868.89,272.23 L870.67,271.93 L872.44,271.62 L874.22,271.31 L875.99,270.98 L877.76,270.66 L879.54,270.32 L881.31,269.97 L883.09,269.62 L884.86,269.26 L886.64,268.89 L888.41,268.51 L890.18,268.12 L891.96,267.72 L893.73,267.31 L895.51,266.89 L897.28,266.45 L899.06,266.01 L900.83,265.55 L902.60,265.08 L904.38,264.59 L906.15,264.09 L907.93,263.57 L909.70,263.04 L911.48,262.49 L913.25,261.92 L915.02,261.33 L916.80,260.72 L918.57,260.08 L920.35,259.42 L922.12,258.74 L923.90,258.02 L925.67,257.28 L927.44,256.50 L929.22,255.69 L930.99,254.84 L932.77,253.94 L934.54,253.00 L936.31,252.00 L938.09,250.95 L939.86,249.83 L941.64,248.63 L943.41,247.36 L945.19,245.98 L946.96,244.49 L948.73,242.87 L950.51,241.11 L952.28,239.19 L954.06,237.04 L954.23,236.82 L954.40,236.59 L954.57,236.37 L954.74,236.13 L954.91,235.90 L955.08,235.66 L955.25,235.42 L955.42,235.18 L955.59,234.93 L955.76,234.67 L955.93,234.42 L956.10,234.16 L956.27,233.89 L956.44,233.63 L956.61,233.35 L956.78,233.08 L956.95,232.79 L957.12,232.51 L957.29,232.22 L957.46,231.92 L957.63,231.62 L957.80,231.31 L957.97,231.00 L958.14,230.68 L958.31,230.36 L958.48,230.03 L958.65,229.69 L958.82,229.35 L958.99,229.00 L959.16,228.64 L959.33,228.28 L959.51,227.91 L959.68,227.53 L959.85,227.15 L960.02,226.76 L960.19,226.35 L960.36,225.94 L960.53,225.52 L960.70,225.09 L960.87,224.66 L961.04,224.21 L961.21,223.74 L961.38,223.27 L961.55,222.79 L961.72,222.29 L961.89,221.78 L962.06,221.25 L962.23,220.71 L962.40,220.15 L962.57,219.58 L962.74,218.99 L962.91,218.38 L963.08,217.74 L963.25,217.09 L963.42,216.41 L963.59,215.71 L963.76,214.98 L963.93,214.21 L964.10,213.42 L964.27,212.59 L964.44,211.73 L964.61,210.82 L964.78,209.86 L964.95,208.85 L965.12,207.79 L965.29,206.66 L965.46,205.46 L965.63,204.18 L965.80,202.80 L965.97,201.31 L966.15,199.69 L966.32,197.92 L966.49,195.97 L966.66,193.78 L966.83,191.31 L967.00,188.46 L967.17,185.10 L967.34,180.99 L967.51,175.72 L967.52,175.08 L967.54,174.42 L967.56,173.74 L967.58,173.03 L967.59,172.29 L967.61,171.53 L967.63,170.73 L967.65,169.89 L967.66,169.01 L967.68,168.09 L967.70,167.13 L967.72,166.11 L967.73,165.03 L967.75,163.89 L967.77,162.67 L967.79,161.37 L967.80,159.97 L967.82,158.45 L967.84,156.81 L967.86,155.00 L967.87,153.00 L967.89,150.76 L967.91,148.22 L967.93,145.27 L967.95,141.77 L967.96,137.47 L967.98,131.86 L968.00,123.82 L968.02,109.41" fill="none" stroke="#00a3e0" stroke-width="1.8" stroke-linejoin="round"/>
<path d="M565.50,303.12 L567.27,302.96 L569.05,302.79 L570.82,302.63 L572.60,302.46 L574.37,302.30 L576.15,302.13 L577.92,301.97 L579.69,301.81 L581.47,301.64 L583.24,301.48 L585.02,301.32 L586.79,301.16 L588.57,301.00 L590.34,300.84 L592.11,300.68 L593.89,300.52 L595.66,300.37 L597.44,300.21 L599.21,300.05 L600.98,299.90 L602.76,299.74 L604.53,299.59 L606.31,299.44 L608.08,299.28 L609.86,299.13 L611.63,298.98 L613.40,298.83 L615.18,298.68 L616.95,298.53 L618.73,298.38 L620.50,298.23 L622.28,298.09 L624.05,297.94 L625.82,297.80 L627.60,297.65 L629.37,297.51 L631.15,297.37 L632.92,297.22 L634.70,297.08 L636.47,296.94 L638.24,296.80 L640.02,296.66 L641.79,296.53 L643.57,296.39 L645.34,296.25 L647.11,296.12 L648.89,295.98 L650.66,295.85 L652.44,295.72 L654.21,295.58 L655.99,295.45 L657.76,295.32 L659.53,295.19 L661.31,295.07 L663.08,294.94 L664.86,294.81 L666.63,294.69 L668.41,294.56 L670.18,294.44 L671.95,294.31 L673.73,294.19 L675.50,294.07 L677.28,293.95 L679.05,293.83 L680.83,293.71 L682.60,293.59 L684.37,293.47 L686.15,293.36 L687.92,293.24 L689.70,293.13 L691.47,293.01 L693.24,292.90 L695.02,292.79 L696.79,292.68 L698.57,292.57 L700.34,292.46 L702.12,292.35 L703.89,292.25 L705.66,292.14 L707.44,292.04 L709.21,291.93 L710.99,291.83 L712.76,291.73 L714.54,291.63 L716.31,291.53 L718.08,291.44 L719.86,291.34 L721.63,291.25 L723.41,291.16 L725.18,291.07 L726.96,290.98 L728.73,290.89 L730.50,290.81 L732.28,290.72 L734.05,290.64 L735.83,290.56 L737.60,290.49 L739.37,290.41 L741.15,290.33 L742.92,290.26 L744.70,290.19 L746.47,290.12 L748.25,290.05 L750.02,289.97 L751.79,289.90 L753.57,289.83 L755.34,289.75 L757.12,289.68 L758.89,289.60 L760.67,289.52 L762.44,289.43 L764.21,289.35 L765.99,289.26 L767.76,289.17 L769.54,289.07 L771.31,288.97 L773.09,288.88 L774.86,288.77 L776.63,288.67 L778.41,288.56 L780.18,288.45 L781.96,288.34 L783.73,288.23 L785.50,288.11 L787.28,287.99 L789.05,287.87 L790.83,287.75 L792.60,287.62 L794.38,287.49 L796.15,287.36 L797.92,287.23 L799.70,287.09 L801.47,286.95 L803.25,286.81 L805.02,286.66 L806.80,286.52 L808.57,286.36 L810.34,286.21 L812.12,286.05 L813.89,285.89 L815.67,285.73 L817.44,285.57 L819.22,285.40 L820.99,285.22 L822.76,285.05 L824.54,284.87 L826.31,284.69 L828.09,284.50 L829.86,284.31 L831.63,284.12 L833.41,283.92 L835.18,283.72 L836.96,283.52 L838.73,283.31 L840.51,283.09 L842.28,282.88 L844.05,282.66 L845.83,282.43 L847.60,282.20 L849.38,281.97 L851.15,281.73 L852.93,281.48 L854.70,281.24 L856.47,280.98 L858.25,280.72 L860.02,280.46 L861.80,280.19 L863.57,279.91 L865.35,279.63 L867.12,279.34 L868.89,279.05 L870.67,278.75 L872.44,278.44 L874.22,278.12 L875.99,277.80 L877.76,277.47 L879.54,277.14 L881.31,276.79 L883.09,276.44 L884.86,276.08 L886.64,275.71 L888.41,275.33 L890.18,274.94 L891.96,274.54 L893.73,274.13 L895.51,273.71 L897.28,273.27 L899.06,272.83 L900.83,272.37 L902.60,271.90 L904.38,271.41 L906.15,270.91 L907.93,270.39 L909.70,269.86 L911.48,269.31 L913.25,268.74 L915.02,268.15 L916.80,267.53 L918.57,266.90 L920.35,266.24 L922.12,265.56 L923.90,264.84 L925.67,264.10 L927.44,263.32 L929.22,262.51 L930.99,261.66 L932.77,260.76 L934.54,259.82 L936.31,258.82 L938.09,257.77 L939.86,256.65 L941.64,255.45 L943.41,254.18 L945.19,252.80 L946.96,251.31 L948.73,249.69 L950.51,247.93 L952.28,246.01 L954.06,243.86 L954.23,243.64 L954.40,243.41 L954.57,243.18 L954.74,242.95 L954.91,242.72 L955.08,242.48 L955.25,242.24 L955.42,241.99 L955.59,241.75 L955.76,241.49 L955.93,241.24 L956.10,240.98 L956.27,240.71 L956.44,240.44 L956.61,240.17 L956.78,239.89 L956.95,239.61 L957.12,239.33 L957.29,239.03 L957.46,238.74 L957.63,238.44 L957.80,238.13 L957.97,237.82 L958.14,237.50 L958.31,237.18 L958.48,236.85 L958.65,236.51 L958.82,236.17 L958.99,235.82 L959.16,235.46 L959.33,235.10 L959.51,234.73 L959.68,234.35 L959.85,233.97 L960.02,233.57 L960.19,233.17 L960.36,232.76 L960.53,232.34 L960.70,231.91 L960.87,231.47 L961.04,231.02 L961.21,230.56 L961.38,230.09 L961.55,229.61 L961.72,229.11 L961.89,228.60 L962.06,228.07 L962.23,227.53 L962.40,226.97 L962.57,226.40 L962.74,225.81 L962.91,225.20 L963.08,224.56 L963.25,223.91 L963.42,223.23 L963.59,222.53 L963.76,221.80 L963.93,221.03 L964.10,220.24 L964.27,219.41 L964.44,218.54 L964.61,217.64 L964.78,216.68 L964.95,215.67 L965.12,214.61 L965.29,213.48 L965.46,212.28 L965.63,210.99 L965.80,209.62 L965.97,208.13 L966.15,206.51 L966.32,204.74 L966.49,202.79 L966.66,200.60 L966.83,198.13 L967.00,195.28 L967.17,191.91 L967.34,187.81 L967.51,182.54 L967.52,181.90 L967.54,181.24 L967.56,180.56 L967.58,179.85 L967.59,179.11 L967.61,178.35 L967.63,177.54 L967.65,176.71 L967.66,175.83 L967.68,174.91 L967.70,173.95 L967.72,172.93 L967.73,171.85 L967.75,170.71 L967.77,169.49 L967.79,168.19 L967.80,166.79 L967.82,165.27 L967.84,163.63 L967.86,161.82 L967.87,159.82 L967.89,157.58 L967.91,155.04 L967.93,152.09 L967.95,148.59 L967.96,144.29 L967.98,138.68 L968.00,130.64 L968.02,116.23" fill="none" stroke="#d2a397" stroke-width="1.8" stroke-linejoin="round"/>
<path d="M565.50,308.89 L567.27,308.72 L569.05,308.56 L570.82,308.39 L572.60,308.23 L574.37,308.06 L576.15,307.90 L577.92,307.73 L579.69,307.57 L581.47,307.41 L583.24,307.25 L585.02,307.09 L586.79,306.93 L588.57,306.77 L590.34,306.61 L592.11,306.45 L593.89,306.29 L595.66,306.13 L597.44,305.98 L599.21,305.82 L600.98,305.66 L602.76,305.51 L604.53,305.36 L606.31,305.20 L608.08,305.05 L609.86,304.90 L611.63,304.75 L613.40,304.60 L615.18,304.45 L616.95,304.30 L618.73,304.15 L620.50,304.00 L622.28,303.85 L624.05,303.71 L625.82,303.56 L627.60,303.42 L629.37,303.27 L631.15,303.13 L632.92,302.99 L634.70,302.85 L636.47,302.71 L638.24,302.57 L640.02,302.43 L641.79,302.29 L643.57,302.15 L645.34,302.02 L647.11,301.88 L648.89,301.75 L650.66,301.61 L652.44,301.48 L654.21,301.35 L655.99,301.22 L657.76,301.09 L659.53,300.96 L661.31,300.83 L663.08,300.70 L664.86,300.58 L666.63,300.45 L668.41,300.33 L670.18,300.20 L671.95,300.08 L673.73,299.96 L675.50,299.83 L677.28,299.71 L679.05,299.59 L680.83,299.48 L682.60,299.36 L684.37,299.24 L686.15,299.12 L687.92,299.01 L689.70,298.89 L691.47,298.78 L693.24,298.67 L695.02,298.56 L696.79,298.44 L698.57,298.33 L700.34,298.23 L702.12,298.12 L703.89,298.01 L705.66,297.91 L707.44,297.80 L709.21,297.70 L710.99,297.60 L712.76,297.50 L714.54,297.40 L716.31,297.30 L718.08,297.20 L719.86,297.11 L721.63,297.02 L723.41,296.92 L725.18,296.83 L726.96,296.75 L728.73,296.66 L730.50,296.57 L732.28,296.49 L734.05,296.41 L735.83,296.33 L737.60,296.25 L739.37,296.17 L741.15,296.10 L742.92,296.03 L744.70,295.95 L746.47,295.88 L748.25,295.81 L750.02,295.74 L751.79,295.67 L753.57,295.59 L755.34,295.52 L757.12,295.44 L758.89,295.36 L760.67,295.28 L762.44,295.20 L764.21,295.11 L765.99,295.02 L767.76,294.93 L769.54,294.84 L771.31,294.74 L773.09,294.64 L774.86,294.54 L776.63,294.44 L778.41,294.33 L780.18,294.22 L781.96,294.11 L783.73,293.99 L785.50,293.88 L787.28,293.76 L789.05,293.64 L790.83,293.51 L792.60,293.39 L794.38,293.26 L796.15,293.13 L797.92,292.99 L799.70,292.86 L801.47,292.72 L803.25,292.57 L805.02,292.43 L806.80,292.28 L808.57,292.13 L810.34,291.98 L812.12,291.82 L813.89,291.66 L815.67,291.50 L817.44,291.33 L819.22,291.16 L820.99,290.99 L822.76,290.81 L824.54,290.63 L826.31,290.45 L828.09,290.27 L829.86,290.08 L831.63,289.88 L833.41,289.69 L835.18,289.49 L836.96,289.28 L838.73,289.07 L840.51,288.86 L842.28,288.64 L844.05,288.42 L845.83,288.20 L847.60,287.97 L849.38,287.73 L851.15,287.49 L852.93,287.25 L854.70,287.00 L856.47,286.75 L858.25,286.49 L860.02,286.22 L861.80,285.95 L863.57,285.68 L865.35,285.39 L867.12,285.11 L868.89,284.81 L870.67,284.51 L872.44,284.20 L874.22,283.89 L875.99,283.57 L877.76,283.24 L879.54,282.90 L881.31,282.56 L883.09,282.21 L884.86,281.84 L886.64,281.47 L888.41,281.09 L890.18,280.70 L891.96,280.30 L893.73,279.89 L895.51,279.47 L897.28,279.04 L899.06,278.59 L900.83,278.13 L902.60,277.66 L904.38,277.18 L906.15,276.67 L907.93,276.16 L909.70,275.62 L911.48,275.07 L913.25,274.50 L915.02,273.91 L916.80,273.30 L918.57,272.67 L920.35,272.01 L922.12,271.32 L923.90,270.61 L925.67,269.86 L927.44,269.09 L929.22,268.27 L930.99,267.42 L932.77,266.53 L934.54,265.58 L936.31,264.59 L938.09,263.53 L939.86,262.41 L941.64,261.22 L943.41,259.94 L945.19,258.57 L946.96,257.08 L948.73,255.46 L950.51,253.70 L952.28,251.78 L954.06,249.63 L954.23,249.40 L954.40,249.18 L954.57,248.95 L954.74,248.72 L954.91,248.48 L955.08,248.25 L955.25,248.01 L955.42,247.76 L955.59,247.51 L955.76,247.26 L955.93,247.00 L956.10,246.74 L956.27,246.48 L956.44,246.21 L956.61,245.94 L956.78,245.66 L956.95,245.38 L957.12,245.09 L957.29,244.80 L957.46,244.50 L957.63,244.20 L957.80,243.90 L957.97,243.58 L958.14,243.26 L958.31,242.94 L958.48,242.61 L958.65,242.28 L958.82,241.93 L958.99,241.58 L959.16,241.23 L959.33,240.87 L959.51,240.50 L959.68,240.12 L959.85,239.73 L960.02,239.34 L960.19,238.94 L960.36,238.53 L960.53,238.11 L960.70,237.68 L960.87,237.24 L961.04,236.79 L961.21,236.33 L961.38,235.86 L961.55,235.37 L961.72,234.87 L961.89,234.36 L962.06,233.84 L962.23,233.30 L962.40,232.74 L962.57,232.17 L962.74,231.57 L962.91,230.96 L963.08,230.33 L963.25,229.67 L963.42,229.00 L963.59,228.29 L963.76,227.56 L963.93,226.80 L964.10,226.01 L964.27,225.18 L964.44,224.31 L964.61,223.40 L964.78,222.45 L964.95,221.44 L965.12,220.37 L965.29,219.25 L965.46,218.04 L965.63,216.76 L965.80,215.38 L965.97,213.89 L966.15,212.28 L966.32,210.51 L966.49,208.55 L966.66,206.37 L966.83,203.89 L967.00,201.04 L967.17,197.68 L967.34,193.57 L967.51,188.31 L967.52,187.67 L967.54,187.01 L967.56,186.33 L967.58,185.62 L967.59,184.88 L967.61,184.11 L967.63,183.31 L967.65,182.47 L967.66,181.60 L967.68,180.68 L967.70,179.71 L967.72,178.69 L967.73,177.62 L967.75,176.47 L967.77,175.26 L967.79,173.95 L967.80,172.55 L967.82,171.04 L967.84,169.39 L967.86,167.59 L967.87,165.59 L967.89,163.35 L967.91,160.80 L967.93,157.86 L967.95,154.36 L967.96,150.05 L967.98,144.45 L968.00,136.40 L968.02,121.99" fill="none" stroke="#25197e" stroke-width="1.8" stroke-dasharray="4.6 2.8" stroke-linejoin="round"/>
<path d="M565.50,313.88 L567.27,313.72 L569.05,313.55 L570.82,313.39 L572.60,313.22 L574.37,313.06 L576.15,312.89 L577.92,312.73 L579.69,312.57 L581.47,312.40 L583.24,312.24 L585.02,312.08 L586.79,311.92 L588.57,311.76 L590.34,311.60 L592.11,311.44 L593.89,311.28 L595.66,311.13 L597.44,310.97 L599.21,310.81 L600.98,310.66 L602.76,310.50 L604.53,310.35 L606.31,310.20 L608.08,310.04 L609.86,309.89 L611.63,309.74 L613.40,309.59 L615.18,309.44 L616.95,309.29 L618.73,309.14 L620.50,308.99 L622.28,308.85 L624.05,308.70 L625.82,308.56 L627.60,308.41 L629.37,308.27 L631.15,308.13 L632.92,307.98 L634.70,307.84 L636.47,307.70 L638.24,307.56 L640.02,307.42 L641.79,307.29 L643.57,307.15 L645.34,307.01 L647.11,306.88 L648.89,306.74 L650.66,306.61 L652.44,306.48 L654.21,306.34 L655.99,306.21 L657.76,306.08 L659.53,305.95 L661.31,305.82 L663.08,305.70 L664.86,305.57 L666.63,305.44 L668.41,305.32 L670.18,305.20 L671.95,305.07 L673.73,304.95 L675.50,304.83 L677.28,304.71 L679.05,304.59 L680.83,304.47 L682.60,304.35 L684.37,304.23 L686.15,304.12 L687.92,304.00 L689.70,303.89 L691.47,303.77 L693.24,303.66 L695.02,303.55 L696.79,303.44 L698.57,303.33 L700.34,303.22 L702.12,303.11 L703.89,303.01 L705.66,302.90 L707.44,302.80 L709.21,302.69 L710.99,302.59 L712.76,302.49 L714.54,302.39 L716.31,302.29 L718.08,302.20 L719.86,302.10 L721.63,302.01 L723.41,301.92 L725.18,301.83 L726.96,301.74 L728.73,301.65 L730.50,301.57 L732.28,301.48 L734.05,301.40 L735.83,301.32 L737.60,301.24 L739.37,301.17 L741.15,301.09 L742.92,301.02 L744.70,300.95 L746.47,300.88 L748.25,300.81 L750.02,300.73 L751.79,300.66 L753.57,300.59 L755.34,300.51 L757.12,300.44 L758.89,300.36 L760.67,300.28 L762.44,300.19 L764.21,300.11 L765.99,300.02 L767.76,299.93 L769.54,299.83 L771.31,299.73 L773.09,299.64 L774.86,299.53 L776.63,299.43 L778.41,299.32 L780.18,299.21 L781.96,299.10 L783.73,298.99 L785.50,298.87 L787.28,298.75 L789.05,298.63 L790.83,298.51 L792.60,298.38 L794.38,298.25 L796.15,298.12 L797.92,297.99 L799.70,297.85 L801.47,297.71 L803.25,297.57 L805.02,297.42 L806.80,297.27 L808.57,297.12 L810.34,296.97 L812.12,296.81 L813.89,296.65 L815.67,296.49 L817.44,296.32 L819.22,296.16 L820.99,295.98 L822.76,295.81 L824.54,295.63 L826.31,295.45 L828.09,295.26 L829.86,295.07 L831.63,294.88 L833.41,294.68 L835.18,294.48 L836.96,294.28 L838.73,294.07 L840.51,293.85 L842.28,293.64 L844.05,293.42 L845.83,293.19 L847.60,292.96 L849.38,292.73 L851.15,292.49 L852.93,292.24 L854.70,291.99 L856.47,291.74 L858.25,291.48 L860.02,291.22 L861.80,290.95 L863.57,290.67 L865.35,290.39 L867.12,290.10 L868.89,289.81 L870.67,289.51 L872.44,289.20 L874.22,288.88 L875.99,288.56 L877.76,288.23 L879.54,287.90 L881.31,287.55 L883.09,287.20 L884.86,286.84 L886.64,286.47 L888.41,286.09 L890.18,285.70 L891.96,285.30 L893.73,284.89 L895.51,284.47 L897.28,284.03 L899.06,283.59 L900.83,283.13 L902.60,282.66 L904.38,282.17 L906.15,281.67 L907.93,281.15 L909.70,280.62 L911.48,280.07 L913.25,279.50 L915.02,278.91 L916.80,278.29 L918.57,277.66 L920.35,277.00 L922.12,276.32 L923.90,275.60 L925.67,274.86 L927.44,274.08 L929.22,273.27 L930.99,272.42 L932.77,271.52 L934.54,270.58 L936.31,269.58 L938.09,268.53 L939.86,267.41 L941.64,266.21 L943.41,264.94 L945.19,263.56 L946.96,262.07 L948.73,260.45 L950.51,258.69 L952.28,256.77 L954.06,254.62 L954.23,254.40 L954.40,254.17 L954.57,253.94 L954.74,253.71 L954.91,253.48 L955.08,253.24 L955.25,253.00 L955.42,252.75 L955.59,252.51 L955.76,252.25 L955.93,252.00 L956.10,251.74 L956.27,251.47 L956.44,251.20 L956.61,250.93 L956.78,250.65 L956.95,250.37 L957.12,250.09 L957.29,249.79 L957.46,249.50 L957.63,249.20 L957.80,248.89 L957.97,248.58 L958.14,248.26 L958.31,247.94 L958.48,247.61 L958.65,247.27 L958.82,246.93 L958.99,246.58 L959.16,246.22 L959.33,245.86 L959.51,245.49 L959.68,245.11 L959.85,244.73 L960.02,244.33 L960.19,243.93 L960.36,243.52 L960.53,243.10 L960.70,242.67 L960.87,242.23 L961.04,241.78 L961.21,241.32 L961.38,240.85 L961.55,240.37 L961.72,239.87 L961.89,239.36 L962.06,238.83 L962.23,238.29 L962.40,237.73 L962.57,237.16 L962.74,236.57 L962.91,235.96 L963.08,235.32 L963.25,234.67 L963.42,233.99 L963.59,233.29 L963.76,232.55 L963.93,231.79 L964.10,231.00 L964.27,230.17 L964.44,229.30 L964.61,228.40 L964.78,227.44 L964.95,226.43 L965.12,225.37 L965.29,224.24 L965.46,223.04 L965.63,221.75 L965.80,220.38 L965.97,218.89 L966.15,217.27 L966.32,215.50 L966.49,213.55 L966.66,211.36 L966.83,208.89 L967.00,206.04 L967.17,202.67 L967.34,198.57 L967.51,193.30 L967.52,192.66 L967.54,192.00 L967.56,191.32 L967.58,190.61 L967.59,189.87 L967.61,189.11 L967.63,188.30 L967.65,187.47 L967.66,186.59 L967.68,185.67 L967.70,184.71 L967.72,183.69 L967.73,182.61 L967.75,181.47 L967.77,180.25 L967.79,178.95 L967.80,177.55 L967.82,176.03 L967.84,174.39 L967.86,172.58 L967.87,170.58 L967.89,168.34 L967.91,165.80 L967.93,162.85 L967.95,159.35 L967.96,155.05 L967.98,149.44 L968.00,141.40 L968.02,126.99" fill="none" stroke="#009a4e" stroke-width="1.8" stroke-dasharray="4.6 2.8" stroke-linejoin="round"/>
<path d="M565.50,318.29 L567.27,318.12 L569.05,317.96 L570.82,317.79 L572.60,317.63 L574.37,317.46 L576.15,317.30 L577.92,317.13 L579.69,316.97 L581.47,316.81 L583.24,316.65 L585.02,316.49 L586.79,316.33 L588.57,316.17 L590.34,316.01 L592.11,315.85 L593.89,315.69 L595.66,315.53 L597.44,315.38 L599.21,315.22 L600.98,315.06 L602.76,314.91 L604.53,314.75 L606.31,314.60 L608.08,314.45 L609.86,314.30 L611.63,314.15 L613.40,313.99 L615.18,313.84 L616.95,313.70 L618.73,313.55 L620.50,313.40 L622.28,313.25 L624.05,313.11 L625.82,312.96 L627.60,312.82 L629.37,312.67 L631.15,312.53 L632.92,312.39 L634.70,312.25 L636.47,312.11 L638.24,311.97 L640.02,311.83 L641.79,311.69 L643.57,311.55 L645.34,311.42 L647.11,311.28 L648.89,311.15 L650.66,311.01 L652.44,310.88 L654.21,310.75 L655.99,310.62 L657.76,310.49 L659.53,310.36 L661.31,310.23 L663.08,310.10 L664.86,309.98 L666.63,309.85 L668.41,309.73 L670.18,309.60 L671.95,309.48 L673.73,309.36 L675.50,309.23 L677.28,309.11 L679.05,308.99 L680.83,308.87 L682.60,308.76 L684.37,308.64 L686.15,308.52 L687.92,308.41 L689.70,308.29 L691.47,308.18 L693.24,308.07 L695.02,307.96 L696.79,307.84 L698.57,307.73 L700.34,307.63 L702.12,307.52 L703.89,307.41 L705.66,307.31 L707.44,307.20 L709.21,307.10 L710.99,307.00 L712.76,306.90 L714.54,306.80 L716.31,306.70 L718.08,306.60 L719.86,306.51 L721.63,306.42 L723.41,306.32 L725.18,306.23 L726.96,306.14 L728.73,306.06 L730.50,305.97 L732.28,305.89 L734.05,305.81 L735.83,305.73 L737.60,305.65 L739.37,305.57 L741.15,305.50 L742.92,305.43 L744.70,305.35 L746.47,305.28 L748.25,305.21 L750.02,305.14 L751.79,305.07 L753.57,304.99 L755.34,304.92 L757.12,304.84 L758.89,304.76 L760.67,304.68 L762.44,304.60 L764.21,304.51 L765.99,304.42 L767.76,304.33 L769.54,304.24 L771.31,304.14 L773.09,304.04 L774.86,303.94 L776.63,303.84 L778.41,303.73 L780.18,303.62 L781.96,303.51 L783.73,303.39 L785.50,303.28 L787.28,303.16 L789.05,303.04 L790.83,302.91 L792.60,302.79 L794.38,302.66 L796.15,302.53 L797.92,302.39 L799.70,302.26 L801.47,302.12 L803.25,301.97 L805.02,301.83 L806.80,301.68 L808.57,301.53 L810.34,301.38 L812.12,301.22 L813.89,301.06 L815.67,300.90 L817.44,300.73 L819.22,300.56 L820.99,300.39 L822.76,300.21 L824.54,300.03 L826.31,299.85 L828.09,299.67 L829.86,299.48 L831.63,299.28 L833.41,299.09 L835.18,298.89 L836.96,298.68 L838.73,298.47 L840.51,298.26 L842.28,298.04 L844.05,297.82 L845.83,297.60 L847.60,297.37 L849.38,297.13 L851.15,296.89 L852.93,296.65 L854.70,296.40 L856.47,296.15 L858.25,295.89 L860.02,295.62 L861.80,295.35 L863.57,295.08 L865.35,294.79 L867.12,294.51 L868.89,294.21 L870.67,293.91 L872.44,293.60 L874.22,293.29 L875.99,292.97 L877.76,292.64 L879.54,292.30 L881.31,291.96 L883.09,291.61 L884.86,291.24 L886.64,290.87 L888.41,290.49 L890.18,290.10 L891.96,289.70 L893.73,289.29 L895.51,288.87 L897.28,288.44 L899.06,287.99 L900.83,287.53 L902.60,287.06 L904.38,286.57 L906.15,286.07 L907.93,285.56 L909.70,285.02 L911.48,284.47 L913.25,283.90 L915.02,283.31 L916.80,282.70 L918.57,282.06 L920.35,281.41 L922.12,280.72 L923.90,280.01 L925.67,279.26 L927.44,278.49 L929.22,277.67 L930.99,276.82 L932.77,275.93 L934.54,274.98 L936.31,273.99 L938.09,272.93 L939.86,271.81 L941.64,270.62 L943.41,269.34 L945.19,267.97 L946.96,266.48 L948.73,264.86 L950.51,263.10 L952.28,261.18 L954.06,259.02 L954.23,258.80 L954.40,258.58 L954.57,258.35 L954.74,258.12 L954.91,257.88 L955.08,257.65 L955.25,257.40 L955.42,257.16 L955.59,256.91 L955.76,256.66 L955.93,256.40 L956.10,256.14 L956.27,255.88 L956.44,255.61 L956.61,255.34 L956.78,255.06 L956.95,254.78 L957.12,254.49 L957.29,254.20 L957.46,253.90 L957.63,253.60 L957.80,253.29 L957.97,252.98 L958.14,252.66 L958.31,252.34 L958.48,252.01 L958.65,251.67 L958.82,251.33 L958.99,250.98 L959.16,250.63 L959.33,250.26 L959.51,249.90 L959.68,249.52 L959.85,249.13 L960.02,248.74 L960.19,248.34 L960.36,247.93 L960.53,247.51 L960.70,247.08 L960.87,246.64 L961.04,246.19 L961.21,245.73 L961.38,245.26 L961.55,244.77 L961.72,244.27 L961.89,243.76 L962.06,243.24 L962.23,242.70 L962.40,242.14 L962.57,241.56 L962.74,240.97 L962.91,240.36 L963.08,239.73 L963.25,239.07 L963.42,238.40 L963.59,237.69 L963.76,236.96 L963.93,236.20 L964.10,235.41 L964.27,234.58 L964.44,233.71 L964.61,232.80 L964.78,231.85 L964.95,230.84 L965.12,229.77 L965.29,228.64 L965.46,227.44 L965.63,226.16 L965.80,224.78 L965.97,223.29 L966.15,221.68 L966.32,219.91 L966.49,217.95 L966.66,215.77 L966.83,213.29 L967.00,210.44 L967.17,207.08 L967.34,202.97 L967.51,197.71 L967.52,197.07 L967.54,196.41 L967.56,195.73 L967.58,195.02 L967.59,194.28 L967.61,193.51 L967.63,192.71 L967.65,191.87 L967.66,191.00 L967.68,190.08 L967.70,189.11 L967.72,188.09 L967.73,187.02 L967.75,185.87 L967.77,184.66 L967.79,183.35 L967.80,181.95 L967.82,180.44 L967.84,178.79 L967.86,176.99 L967.87,174.99 L967.89,172.75 L967.91,170.20 L967.93,167.26 L967.95,163.76 L967.96,159.45 L967.98,153.85 L968.00,145.80 L968.02,131.39" fill="none" stroke="#00a3e0" stroke-width="1.8" stroke-dasharray="4.6 2.8" stroke-linejoin="round"/>
<line x1="565.5" y1="252.5" x2="968.02" y2="252.5" stroke="#f01c32" stroke-width="1.1" stroke-dasharray="1.75 1.75"/>
<rect x="565.5" y="11.3" width="408.29999999999995" height="321.7" fill="none" stroke="#231f20" stroke-width="1.3"/>
<path d="M565.50,333.0 v-5 M565.50,11.3 v5 M615.32,333.0 v-5 M615.32,11.3 v5 M665.13,333.0 v-5 M665.13,11.3 v5 M714.94,333.0 v-5 M714.94,11.3 v5 M764.76,333.0 v-5 M764.76,11.3 v5 M814.58,333.0 v-5 M814.58,11.3 v5 M864.39,333.0 v-5 M864.39,11.3 v5 M914.20,333.0 v-5 M914.20,11.3 v5 M964.02,333.0 v-5 M964.02,11.3 v5 M565.5,23.76 h3 M973.8,23.76 h-3 M565.5,31.34 h3 M973.8,31.34 h-3 M565.5,36.72 h3 M973.8,36.72 h-3 M565.5,40.90 h3 M973.8,40.90 h-3 M565.5,44.31 h3 M973.8,44.31 h-3 M565.5,47.19 h3 M973.8,47.19 h-3 M565.5,49.69 h3 M973.8,49.69 h-3 M565.5,51.89 h3 M973.8,51.89 h-3 M565.5,53.86 h5.5 M973.8,53.86 h-5.5 M565.5,66.82 h3 M973.8,66.82 h-3 M565.5,74.40 h3 M973.8,74.40 h-3 M565.5,79.78 h3 M973.8,79.78 h-3 M565.5,83.96 h3 M973.8,83.96 h-3 M565.5,87.37 h3 M973.8,87.37 h-3 M565.5,90.25 h3 M973.8,90.25 h-3 M565.5,92.75 h3 M973.8,92.75 h-3 M565.5,94.95 h3 M973.8,94.95 h-3 M565.5,96.92 h5.5 M973.8,96.92 h-5.5 M565.5,109.88 h3 M973.8,109.88 h-3 M565.5,117.46 h3 M973.8,117.46 h-3 M565.5,122.84 h3 M973.8,122.84 h-3 M565.5,127.02 h3 M973.8,127.02 h-3 M565.5,130.43 h3 M973.8,130.43 h-3 M565.5,133.31 h3 M973.8,133.31 h-3 M565.5,135.81 h3 M973.8,135.81 h-3 M565.5,138.01 h3 M973.8,138.01 h-3 M565.5,139.98 h5.5 M973.8,139.98 h-5.5 M565.5,152.94 h3 M973.8,152.94 h-3 M565.5,160.52 h3 M973.8,160.52 h-3 M565.5,165.90 h3 M973.8,165.90 h-3 M565.5,170.08 h3 M973.8,170.08 h-3 M565.5,173.49 h3 M973.8,173.49 h-3 M565.5,176.37 h3 M973.8,176.37 h-3 M565.5,178.87 h3 M973.8,178.87 h-3 M565.5,181.07 h3 M973.8,181.07 h-3 M565.5,183.04 h5.5 M973.8,183.04 h-5.5 M565.5,196.00 h3 M973.8,196.00 h-3 M565.5,203.58 h3 M973.8,203.58 h-3 M565.5,208.96 h3 M973.8,208.96 h-3 M565.5,213.14 h3 M973.8,213.14 h-3 M565.5,216.55 h3 M973.8,216.55 h-3 M565.5,219.43 h3 M973.8,219.43 h-3 M565.5,221.93 h3 M973.8,221.93 h-3 M565.5,224.13 h3 M973.8,224.13 h-3 M565.5,226.10 h5.5 M973.8,226.10 h-5.5 M565.5,239.06 h3 M973.8,239.06 h-3 M565.5,246.64 h3 M973.8,246.64 h-3 M565.5,252.02 h3 M973.8,252.02 h-3 M565.5,256.20 h3 M973.8,256.20 h-3 M565.5,259.61 h3 M973.8,259.61 h-3 M565.5,262.49 h3 M973.8,262.49 h-3 M565.5,264.99 h3 M973.8,264.99 h-3 M565.5,267.19 h3 M973.8,267.19 h-3 M565.5,269.16 h5.5 M973.8,269.16 h-5.5 M565.5,282.12 h3 M973.8,282.12 h-3 M565.5,289.70 h3 M973.8,289.70 h-3 M565.5,295.08 h3 M973.8,295.08 h-3 M565.5,299.26 h3 M973.8,299.26 h-3 M565.5,302.67 h3 M973.8,302.67 h-3 M565.5,305.55 h3 M973.8,305.55 h-3 M565.5,308.05 h3 M973.8,308.05 h-3 M565.5,310.25 h3 M973.8,310.25 h-3 M565.5,312.22 h5.5 M973.8,312.22 h-5.5 M565.5,325.18 h3 M973.8,325.18 h-3" stroke="#231f20" stroke-width="1.2" fill="none"/>
<text transform="translate(544.20,56.66) scale(1.03,1)" font-size="15.5" text-anchor="end" fill="#111" stroke="#111" stroke-width="0.12">−10</text>
<text transform="translate(544.60,48.16) scale(1.03,1)" font-size="11" text-anchor="start" fill="#111" stroke="#111" stroke-width="0.12">−4</text>
<text transform="translate(544.20,99.72) scale(1.03,1)" font-size="15.5" text-anchor="end" fill="#111" stroke="#111" stroke-width="0.12">−10</text>
<text transform="translate(544.60,91.22) scale(1.03,1)" font-size="11" text-anchor="start" fill="#111" stroke="#111" stroke-width="0.12">−3</text>
<text transform="translate(544.20,142.78) scale(1.03,1)" font-size="15.5" text-anchor="end" fill="#111" stroke="#111" stroke-width="0.12">−10</text>
<text transform="translate(544.60,134.28) scale(1.03,1)" font-size="11" text-anchor="start" fill="#111" stroke="#111" stroke-width="0.12">−2</text>
<text transform="translate(544.20,185.84) scale(1.03,1)" font-size="15.5" text-anchor="end" fill="#111" stroke="#111" stroke-width="0.12">−10</text>
<text transform="translate(544.60,177.34) scale(1.03,1)" font-size="11" text-anchor="start" fill="#111" stroke="#111" stroke-width="0.12">−1</text>
<text transform="translate(544.20,228.90) scale(1.03,1)" font-size="15.5" text-anchor="end" fill="#111" stroke="#111" stroke-width="0.12">−10</text>
<text transform="translate(543.70,220.40) scale(1.03,1)" font-size="11" text-anchor="start" fill="#111" stroke="#111" stroke-width="0.12">0</text>
<text transform="translate(544.20,271.96) scale(1.03,1)" font-size="15.5" text-anchor="end" fill="#111" stroke="#111" stroke-width="0.12">−10</text>
<text transform="translate(544.60,263.46) scale(1.03,1)" font-size="11" text-anchor="start" fill="#111" stroke="#111" stroke-width="0.12">1</text>
<text transform="translate(544.20,315.02) scale(1.03,1)" font-size="15.5" text-anchor="end" fill="#111" stroke="#111" stroke-width="0.12">−10</text>
<text transform="translate(545.50,306.52) scale(1.03,1)" font-size="11" text-anchor="start" fill="#111" stroke="#111" stroke-width="0.12">2</text>
<text transform="translate(565.50,350.60) scale(1.03,1)" font-size="15.5" text-anchor="middle" fill="#111" stroke="#111" stroke-width="0.12">0</text>
<text transform="translate(615.32,350.60) scale(1.03,1)" font-size="15.5" text-anchor="middle" fill="#111" stroke="#111" stroke-width="0.12">0.5</text>
<text transform="translate(665.13,350.60) scale(1.03,1)" font-size="15.5" text-anchor="middle" fill="#111" stroke="#111" stroke-width="0.12">1.0</text>
<text transform="translate(714.94,350.60) scale(1.03,1)" font-size="15.5" text-anchor="middle" fill="#111" stroke="#111" stroke-width="0.12">1.5</text>
<text transform="translate(764.76,350.60) scale(1.03,1)" font-size="15.5" text-anchor="middle" fill="#111" stroke="#111" stroke-width="0.12">2.0</text>
<text transform="translate(814.58,350.60) scale(1.03,1)" font-size="15.5" text-anchor="middle" fill="#111" stroke="#111" stroke-width="0.12">2.5</text>
<text transform="translate(864.39,350.60) scale(1.03,1)" font-size="15.5" text-anchor="middle" fill="#111" stroke="#111" stroke-width="0.12">3.0</text>
<text transform="translate(914.20,350.60) scale(1.03,1)" font-size="15.5" text-anchor="middle" fill="#111" stroke="#111" stroke-width="0.12">3.5</text>
<text transform="translate(964.02,350.60) scale(1.03,1)" font-size="15.5" text-anchor="middle" fill="#111" stroke="#111" stroke-width="0.12">4.0</text>
<text transform="translate(928.10,331.00) scale(1.03,1)" font-size="15.5" text-anchor="start" fill="#111" stroke="#111" stroke-width="0.12">×10</text>
<text transform="translate(955.90,322.30) scale(1.03,1)" font-size="11" text-anchor="start" fill="#111" stroke="#111" stroke-width="0.12">4</text>
<text transform="translate(772.20,370.70) scale(1.025,1)" font-size="15.5" text-anchor="middle" fill="#111" stroke="#111" stroke-width="0.12">Number of eigenvalues</text>
<text transform="translate(508.20,171.80) rotate(-90) scale(1.03,1)" font-size="15.5" text-anchor="middle" fill="#111" stroke="#111" stroke-width="0.12">Values of&#160;&#160;eigenvalues</text>
<text transform="translate(498.3,17) scale(0.92,1)" font-size="22.5" font-weight="bold" fill="#000">B</text>
<rect x="578.5" y="22.0" width="120.0" height="191.0" fill="#fff" stroke="#231f20" stroke-width="1.2"/>
<line x1="585" y1="33.60" x2="621.5" y2="33.60" stroke="#000000" stroke-width="1.6" stroke-dasharray="4.1 3.75"/>
<text transform="translate(692.30,39.40) scale(1.02,1)" font-size="15" text-anchor="end" fill="#111" stroke="#111" stroke-width="0.12">Δ<tspan font-style="italic">t</tspan> = 1 ms</text>
<line x1="585" y1="54.40" x2="621.5" y2="54.40" stroke="#808080" stroke-width="1.6"/>
<text transform="translate(692.30,60.20) scale(1.04754,1)" font-size="15" text-anchor="end" fill="#111" stroke="#111" stroke-width="0.12">Δ<tspan font-style="italic">t</tspan> = 2 ms</text>
<line x1="585" y1="75.20" x2="621.5" y2="75.20" stroke="#25197e" stroke-width="1.6"/>
<text transform="translate(692.30,81.00) scale(1.04754,1)" font-size="15" text-anchor="end" fill="#111" stroke="#111" stroke-width="0.12">Δ<tspan font-style="italic">t</tspan> = 3 ms</text>
<line x1="585" y1="96.00" x2="621.5" y2="96.00" stroke="#009a4e" stroke-width="1.6"/>
<text transform="translate(692.30,101.80) scale(1.04754,1)" font-size="15" text-anchor="end" fill="#111" stroke="#111" stroke-width="0.12">Δ<tspan font-style="italic">t</tspan> = 4 ms</text>
<line x1="585" y1="116.80" x2="621.5" y2="116.80" stroke="#00a3e0" stroke-width="1.6"/>
<text transform="translate(692.30,122.60) scale(1.04754,1)" font-size="15" text-anchor="end" fill="#111" stroke="#111" stroke-width="0.12">Δ<tspan font-style="italic">t</tspan> = 5 ms</text>
<line x1="585" y1="137.60" x2="621.5" y2="137.60" stroke="#d2a397" stroke-width="1.6"/>
<text transform="translate(692.30,143.40) scale(1.02,1)" font-size="15" text-anchor="end" fill="#111" stroke="#111" stroke-width="0.12">Δ<tspan font-style="italic">t</tspan> = 6 ms</text>
<line x1="585" y1="158.40" x2="621.5" y2="158.40" stroke="#25197e" stroke-width="1.6" stroke-dasharray="4.1 3.75"/>
<text transform="translate(692.30,164.20) scale(1.04754,1)" font-size="15" text-anchor="end" fill="#111" stroke="#111" stroke-width="0.12">Δ<tspan font-style="italic">t</tspan> = 7 ms</text>
<line x1="585" y1="179.20" x2="621.5" y2="179.20" stroke="#009a4e" stroke-width="1.6" stroke-dasharray="4.1 3.75"/>
<text transform="translate(692.30,185.00) scale(1.04754,1)" font-size="15" text-anchor="end" fill="#111" stroke="#111" stroke-width="0.12">Δ<tspan font-style="italic">t</tspan> = 8 ms</text>
<line x1="585" y1="200.00" x2="621.5" y2="200.00" stroke="#00a3e0" stroke-width="1.6" stroke-dasharray="4.1 3.75"/>
<text transform="translate(692.30,205.80) scale(1.02,1)" font-size="15" text-anchor="end" fill="#111" stroke="#111" stroke-width="0.12">Δ<tspan font-style="italic">t</tspan> = 9 ms</text>
</svg>
</body></html>
